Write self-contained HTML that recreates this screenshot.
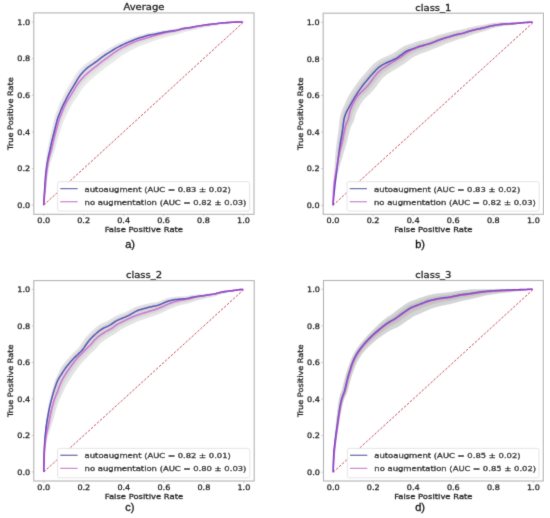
<!DOCTYPE html>
<html><head><meta charset="utf-8"><title>ROC curves</title>
<style>html,body{margin:0;padding:0;background:#fff}svg{display:block}
svg text{font-family:'DejaVu Sans', 'Liberation Sans', sans-serif;stroke:currentColor;stroke-width:0.3px}</style></head>
<body><svg width="550" height="518" viewBox="0 0 550 518">
<defs><filter id="bl" x="0" y="0" width="1" height="1"><feConvolveMatrix order="3" kernelMatrix="0.0121 0.0858 0.0121 0.0858 0.6084 0.0858 0.0121 0.0858 0.0121" edgeMode="none"/></filter></defs>
<rect width="550" height="518" fill="#fff"/>
<g filter="url(#bl)">
<g><path d="M43.7 205.07 L43.7 203.5 L43.7 201.93 L43.7 200.36 L43.7 198.79 L43.7 197.22 L43.7 195.65 L43.7 194.08 L43.7 192.52 L43.77 190.95 L43.84 189.38 L43.91 187.81 L43.97 186.24 L44.04 184.67 L44.11 183.1 L44.18 181.53 L44.26 179.96 L44.34 178.38 L44.42 176.81 L44.51 175.23 L44.61 173.66 L44.72 172.08 L44.84 170.5 L44.97 168.92 L45.11 167.34 L45.27 165.76 L45.43 164.18 L45.59 162.61 L45.77 161.03 L45.96 159.45 L46.16 157.87 L46.37 156.28 L46.6 154.71 L46.84 153.14 L47.07 151.58 L47.32 150.03 L47.62 148.5 L47.91 146.97 L48.21 145.43 L48.51 143.88 L48.82 142.32 L49.14 140.76 L49.47 139.2 L49.81 137.65 L50.16 136.11 L50.5 134.57 L50.85 133.04 L51.2 131.51 L51.54 129.98 L51.89 128.46 L52.22 126.93 L52.56 125.39 L52.91 123.85 L53.26 122.3 L53.63 120.74 L54.02 119.17 L54.44 117.57 L54.93 115.95 L55.46 114.35 L56.02 112.82 L56.56 111.34 L57.08 109.89 L57.6 108.42 L58.15 106.9 L58.75 105.34 L59.39 103.79 L60.05 102.27 L60.76 100.84 L61.45 99.45 L62.13 98.06 L62.82 96.65 L63.52 95.22 L64.25 93.76 L65.01 92.3 L65.81 90.86 L66.62 89.44 L67.43 88.06 L68.24 86.7 L69.04 85.34 L69.84 84 L70.63 82.66 L71.4 81.34 L72.15 80.01 L72.92 78.64 L73.74 77.21 L74.62 75.75 L75.58 74.3 L76.59 72.89 L77.64 71.52 L78.72 70.2 L79.84 68.92 L81.02 67.68 L82.28 66.5 L83.59 65.35 L84.97 64.25 L86.37 63.23 L87.76 62.29 L89.12 61.41 L90.45 60.55 L91.77 59.71 L93.07 58.87 L94.33 58.04 L95.53 57.21 L96.71 56.35 L97.92 55.42 L99.19 54.43 L100.57 53.42 L102.01 52.45 L103.47 51.56 L104.88 50.76 L106.23 50 L107.53 49.24 L108.82 48.46 L110.15 47.63 L111.53 46.78 L112.97 45.93 L114.46 45.13 L115.95 44.39 L117.42 43.7 L118.86 43.04 L120.28 42.39 L121.72 41.73 L123.18 41.07 L124.67 40.43 L126.19 39.81 L127.69 39.23 L129.18 38.67 L130.66 38.13 L132.13 37.58 L133.63 37.03 L135.17 36.49 L136.74 35.99 L138.3 35.54 L139.84 35.12 L141.34 34.72 L142.82 34.3 L144.33 33.84 L145.9 33.39 L147.52 32.99 L149.16 32.67 L150.78 32.41 L152.35 32.2 L153.88 31.98 L155.39 31.75 L156.9 31.48 L158.43 31.18 L159.99 30.89 L161.56 30.61 L163.13 30.35 L164.71 30.11 L166.28 29.88 L167.85 29.68 L169.42 29.48 L170.99 29.29 L172.56 29.11 L174.1 28.93 L175.6 28.72 L177.07 28.46 L178.53 28.13 L180.04 27.74 L181.62 27.37 L183.24 27.07 L184.85 26.84 L186.42 26.65 L187.97 26.47 L189.51 26.27 L191.05 26.05 L192.59 25.81 L194.12 25.56 L195.67 25.3 L197.22 25.03 L198.79 24.78 L200.36 24.56 L201.93 24.36 L203.49 24.17 L205.05 23.97 L206.6 23.77 L208.17 23.57 L209.74 23.39 L211.31 23.23 L212.88 23.09 L214.45 22.95 L216.01 22.8 L217.56 22.65 L219.12 22.48 L220.68 22.31 L222.26 22.16 L223.84 22.1 L225.42 22.1 L226.99 22.1 L228.56 22.1 L230.13 22.1 L231.7 22.1 L233.28 22.1 L234.85 22.1 L236.43 22.1 L238 22.1 L239.58 22.1 L241.15 22.1 L242.72 22.1 L243.5 22.1 L241.94 22.18 L240.39 22.26 L238.84 22.37 L237.29 22.49 L235.75 22.64 L234.22 22.83 L232.69 23.05 L231.14 23.27 L229.6 23.5 L228.05 23.71 L226.51 23.93 L224.98 24.15 L223.46 24.39 L221.96 24.61 L220.45 24.87 L218.92 25.14 L217.37 25.41 L215.82 25.67 L214.28 25.91 L212.75 26.16 L211.22 26.4 L209.72 26.67 L208.22 26.95 L206.71 27.24 L205.19 27.55 L203.67 27.87 L202.16 28.18 L200.67 28.51 L199.17 28.85 L197.68 29.2 L196.16 29.56 L194.64 29.92 L193.1 30.27 L191.56 30.61 L190.01 30.94 L188.46 31.26 L186.92 31.56 L185.44 31.87 L184.05 32.19 L182.72 32.56 L181.35 33.01 L179.87 33.51 L178.27 34.01 L176.64 34.46 L175.06 34.84 L173.54 35.2 L172.07 35.56 L170.61 35.94 L169.14 36.33 L167.67 36.74 L166.19 37.15 L164.71 37.57 L163.24 37.99 L161.79 38.43 L160.37 38.87 L158.95 39.33 L157.52 39.82 L156.07 40.32 L154.61 40.83 L153.14 41.35 L151.68 41.86 L150.23 42.37 L148.78 42.89 L147.33 43.41 L145.85 43.94 L144.36 44.47 L142.87 44.99 L141.43 45.5 L140.07 46 L138.77 46.51 L137.49 47.06 L136.21 47.65 L134.94 48.26 L133.69 48.91 L132.42 49.6 L131.11 50.33 L129.73 51.1 L128.34 51.87 L126.97 52.61 L125.67 53.33 L124.45 54.04 L123.27 54.77 L122.11 55.52 L120.97 56.3 L119.84 57.11 L118.75 57.95 L117.64 58.81 L116.46 59.7 L115.22 60.64 L113.9 61.63 L112.55 62.61 L111.21 63.54 L109.93 64.42 L108.73 65.26 L107.59 66.1 L106.46 66.95 L105.32 67.86 L104.13 68.81 L102.92 69.78 L101.7 70.76 L100.48 71.74 L99.27 72.71 L98.05 73.68 L96.84 74.65 L95.63 75.62 L94.45 76.56 L93.33 77.49 L92.26 78.4 L91.21 79.34 L90.17 80.29 L89.17 81.27 L88.16 82.23 L87.16 83.18 L86.18 84.16 L85.24 85.16 L84.33 86.17 L83.48 87.19 L82.69 88.22 L81.91 89.31 L81.13 90.5 L80.31 91.78 L79.46 93.11 L78.6 94.45 L77.74 95.77 L76.88 97.09 L76 98.42 L75.11 99.74 L74.23 101.03 L73.38 102.28 L72.58 103.5 L71.82 104.71 L71.09 105.92 L70.4 107.16 L69.73 108.41 L69.1 109.69 L68.47 110.98 L67.81 112.31 L67.15 113.71 L66.46 115.14 L65.77 116.56 L65.11 117.92 L64.49 119.23 L63.93 120.53 L63.4 121.87 L62.89 123.27 L62.39 124.71 L61.89 126.17 L61.4 127.62 L60.92 129.07 L60.45 130.52 L60 131.98 L59.55 133.45 L59.1 134.93 L58.66 136.43 L58.21 137.92 L57.77 139.4 L57.34 140.87 L56.93 142.33 L56.53 143.79 L56.15 145.28 L55.76 146.79 L55.36 148.33 L54.93 149.89 L54.45 151.44 L53.94 152.98 L53.42 154.47 L52.9 155.93 L52.37 157.36 L51.82 158.75 L51.33 160.15 L50.88 161.58 L50.47 163.04 L50.08 164.52 L49.72 166.01 L49.38 167.51 L49.06 169.02 L48.76 170.53 L48.49 172.04 L48.23 173.56 L47.99 175.08 L47.77 176.61 L47.56 178.14 L47.37 179.68 L47.18 181.22 L47 182.76 L46.82 184.31 L46.64 185.85 L46.45 187.4 L46.25 188.94 L46.06 190.49 L45.86 192.03 L45.67 193.57 L45.47 195.12 L45.28 196.66 L45.08 198.2 L44.88 199.75 L44.69 201.29 L44.49 202.83 L44.3 204.37 Z" fill="#e9e9e9" stroke="none"/>
<path d="M43.7 205.09 L43.7 203.52 L43.7 201.95 L43.7 200.38 L43.75 198.81 L43.83 197.24 L43.91 195.68 L43.99 194.11 L44.07 192.54 L44.16 190.97 L44.24 189.4 L44.33 187.84 L44.42 186.27 L44.5 184.7 L44.59 183.13 L44.68 181.56 L44.77 179.99 L44.87 178.42 L44.97 176.85 L45.08 175.28 L45.21 173.72 L45.34 172.15 L45.49 170.58 L45.66 169.01 L45.83 167.44 L46.02 165.87 L46.22 164.31 L46.43 162.74 L46.64 161.18 L46.87 159.62 L47.12 158.06 L47.39 156.5 L47.67 154.94 L47.95 153.39 L48.25 151.85 L48.54 150.31 L48.86 148.77 L49.18 147.24 L49.49 145.7 L49.8 144.16 L50.13 142.61 L50.46 141.07 L50.81 139.52 L51.17 137.99 L51.54 136.46 L51.9 134.93 L52.27 133.4 L52.64 131.88 L53 130.35 L53.37 128.83 L53.73 127.3 L54.08 125.77 L54.45 124.24 L54.82 122.7 L55.2 121.17 L55.6 119.62 L56.04 118.07 L56.53 116.52 L57.07 114.99 L57.65 113.49 L58.22 112.03 L58.78 110.58 L59.33 109.11 L59.9 107.62 L60.5 106.12 L61.15 104.63 L61.83 103.17 L62.54 101.76 L63.25 100.36 L63.94 98.97 L64.64 97.56 L65.34 96.14 L66.07 94.72 L66.82 93.3 L67.6 91.89 L68.41 90.51 L69.22 89.14 L70.03 87.79 L70.84 86.45 L71.65 85.11 L72.45 83.77 L73.24 82.43 L74.02 81.09 L74.79 79.72 L75.6 78.33 L76.46 76.94 L77.37 75.56 L78.34 74.22 L79.35 72.92 L80.4 71.67 L81.48 70.44 L82.62 69.25 L83.81 68.11 L85.04 67.01 L86.33 65.96 L87.65 64.97 L88.99 64.04 L90.31 63.16 L91.63 62.29 L92.94 61.42 L94.24 60.56 L95.51 59.7 L96.74 58.82 L97.95 57.91 L99.17 56.95 L100.41 55.96 L101.72 54.97 L103.08 54.03 L104.46 53.16 L105.84 52.35 L107.19 51.57 L108.51 50.78 L109.81 49.96 L111.13 49.11 L112.48 48.25 L113.86 47.42 L115.28 46.62 L116.72 45.88 L118.16 45.19 L119.58 44.51 L121 43.84 L122.42 43.16 L123.86 42.49 L125.31 41.83 L126.79 41.21 L128.26 40.61 L129.74 40.04 L131.2 39.47 L132.67 38.9 L134.14 38.33 L135.65 37.78 L137.17 37.27 L138.7 36.8 L140.22 36.37 L141.72 35.93 L143.21 35.49 L144.71 35.01 L146.24 34.55 L147.81 34.15 L149.39 33.82 L150.97 33.55 L152.53 33.32 L154.07 33.08 L155.6 32.82 L157.12 32.53 L158.65 32.22 L160.2 31.91 L161.76 31.61 L163.31 31.33 L164.87 31.07 L166.43 30.83 L168 30.61 L169.56 30.39 L171.12 30.19 L172.68 29.99 L174.23 29.79 L175.75 29.56 L177.25 29.27 L178.74 28.91 L180.25 28.5 L181.8 28.11 L183.38 27.8 L184.95 27.57 L186.52 27.37 L188.07 27.18 L189.62 26.96 L191.16 26.72 L192.7 26.47 L194.24 26.2 L195.79 25.93 L197.34 25.65 L198.89 25.39 L200.45 25.15 L202.02 24.94 L203.57 24.73 L205.13 24.53 L206.68 24.31 L208.24 24.1 L209.81 23.91 L211.37 23.74 L212.94 23.58 L214.5 23.42 L216.06 23.26 L217.62 23.1 L219.17 22.92 L220.73 22.73 L222.3 22.57 L223.87 22.44 L225.45 22.36 L227.02 22.28 L228.58 22.21 L230.15 22.14 L231.72 22.1 L233.29 22.1 L234.86 22.1 L236.43 22.1 L238 22.1 L239.58 22.1 L241.15 22.1 L242.72 22.1 L243.5 22.1 L241.94 22.12 L240.39 22.15 L238.84 22.19 L237.29 22.26 L235.74 22.35 L234.2 22.48 L232.66 22.64 L231.11 22.81 L229.56 22.97 L228.02 23.13 L226.47 23.29 L224.93 23.46 L223.4 23.63 L221.87 23.83 L220.34 24.05 L218.81 24.28 L217.26 24.51 L215.72 24.72 L214.17 24.93 L212.64 25.14 L211.1 25.35 L209.58 25.57 L208.06 25.82 L206.53 26.08 L205.01 26.35 L203.48 26.63 L201.96 26.91 L200.44 27.19 L198.93 27.5 L197.42 27.81 L195.9 28.14 L194.37 28.46 L192.84 28.77 L191.3 29.07 L189.76 29.36 L188.21 29.64 L186.68 29.9 L185.17 30.17 L183.71 30.47 L182.29 30.82 L180.86 31.25 L179.37 31.71 L177.82 32.16 L176.25 32.55 L174.69 32.9 L173.17 33.22 L171.67 33.54 L170.18 33.89 L168.69 34.25 L167.19 34.62 L165.69 35 L164.19 35.38 L162.71 35.77 L161.23 36.17 L159.76 36.59 L158.31 37.03 L156.84 37.48 L155.37 37.95 L153.9 38.43 L152.42 38.9 L150.94 39.38 L149.47 39.86 L148.01 40.35 L146.54 40.84 L145.06 41.33 L143.56 41.82 L142.08 42.3 L140.61 42.77 L139.19 43.26 L137.8 43.76 L136.43 44.3 L135.07 44.88 L133.72 45.49 L132.39 46.14 L131.06 46.82 L129.7 47.53 L128.32 48.26 L126.93 48.99 L125.54 49.71 L124.2 50.41 L122.9 51.12 L121.63 51.86 L120.38 52.63 L119.14 53.43 L117.93 54.25 L116.74 55.11 L115.56 56 L114.35 56.91 L113.11 57.85 L111.83 58.81 L110.52 59.75 L109.21 60.67 L107.94 61.55 L106.7 62.41 L105.5 63.29 L104.32 64.19 L103.14 65.12 L101.94 66.08 L100.73 67.05 L99.51 68.03 L98.29 69 L97.08 69.97 L95.87 70.94 L94.65 71.92 L93.44 72.89 L92.25 73.85 L91.09 74.8 L89.96 75.76 L88.85 76.75 L87.77 77.75 L86.7 78.78 L85.66 79.82 L84.62 80.86 L83.62 81.93 L82.64 83.02 L81.7 84.13 L80.81 85.26 L79.97 86.41 L79.17 87.61 L78.38 88.87 L77.57 90.18 L76.76 91.52 L75.93 92.86 L75.1 94.19 L74.27 95.51 L73.42 96.84 L72.57 98.16 L71.72 99.47 L70.89 100.75 L70.08 102.03 L69.32 103.3 L68.58 104.59 L67.88 105.9 L67.21 107.23 L66.57 108.57 L65.95 109.93 L65.33 111.32 L64.71 112.74 L64.08 114.18 L63.44 115.61 L62.81 117.01 L62.23 118.38 L61.69 119.77 L61.18 121.17 L60.7 122.62 L60.23 124.08 L59.76 125.56 L59.31 127.03 L58.86 128.51 L58.42 129.98 L58 131.46 L57.58 132.95 L57.17 134.45 L56.76 135.95 L56.34 137.44 L55.93 138.94 L55.53 140.43 L55.14 141.91 L54.78 143.4 L54.42 144.91 L54.06 146.42 L53.7 147.95 L53.3 149.49 L52.87 151.02 L52.4 152.53 L51.92 154.03 L51.44 155.5 L50.96 156.96 L50.48 158.41 L50.05 159.86 L49.66 161.33 L49.31 162.82 L48.98 164.32 L48.67 165.84 L48.38 167.36 L48.11 168.88 L47.85 170.41 L47.61 171.94 L47.39 173.47 L47.18 175 L46.99 176.53 L46.82 178.07 L46.65 179.62 L46.5 181.16 L46.34 182.71 L46.19 184.25 L46.03 185.8 L45.87 187.35 L45.7 188.9 L45.54 190.44 L45.37 191.99 L45.2 193.53 L45.04 195.08 L44.87 196.62 L44.7 198.17 L44.54 199.71 L44.37 201.26 L44.2 202.8 L44.03 204.35 Z" fill="#dfdfdf" stroke="none"/>
<line x1="43.7" y1="205.1" x2="243.5" y2="22.1" stroke="#c85262" stroke-width="1.0" stroke-dasharray="2.6 1.4"/>
<path d="M43.7 205.1 L43.79 203.53 L43.88 201.97 L43.97 200.4 L44.06 198.83 L44.15 197.26 L44.25 195.7 L44.35 194.13 L44.45 192.56 L44.55 191 L44.65 189.43 L44.76 187.86 L44.86 186.3 L44.96 184.73 L45.07 183.16 L45.17 181.6 L45.28 180.03 L45.4 178.46 L45.52 176.9 L45.66 175.34 L45.81 173.77 L45.97 172.21 L46.15 170.65 L46.34 169.1 L46.55 167.54 L46.78 165.98 L47.01 164.43 L47.26 162.88 L47.52 161.33 L47.79 159.79 L48.08 158.25 L48.4 156.71 L48.73 155.18 L49.07 153.64 L49.42 152.11 L49.77 150.58 L50.1 149.05 L50.44 147.51 L50.77 145.98 L51.1 144.44 L51.44 142.91 L51.79 141.38 L52.16 139.85 L52.53 138.33 L52.92 136.81 L53.3 135.29 L53.69 133.76 L54.08 132.24 L54.46 130.72 L54.85 129.2 L55.23 127.67 L55.61 126.15 L55.99 124.63 L56.38 123.11 L56.78 121.59 L57.19 120.07 L57.64 118.57 L58.14 117.09 L58.69 115.62 L59.28 114.16 L59.88 112.71 L60.47 111.26 L61.06 109.8 L61.64 108.34 L62.26 106.9 L62.92 105.48 L63.61 104.07 L64.33 102.68 L65.05 101.28 L65.75 99.88 L66.46 98.47 L67.16 97.07 L67.88 95.68 L68.63 94.29 L69.4 92.93 L70.19 91.57 L71 90.23 L71.82 88.89 L72.64 87.55 L73.46 86.21 L74.28 84.87 L75.09 83.52 L75.88 82.17 L76.66 80.81 L77.46 79.45 L78.29 78.12 L79.17 76.83 L80.09 75.56 L81.07 74.33 L82.08 73.13 L83.13 71.96 L84.22 70.82 L85.34 69.72 L86.49 68.67 L87.69 67.66 L88.93 66.71 L90.21 65.8 L91.51 64.91 L92.81 64.02 L94.11 63.14 L95.4 62.25 L96.69 61.35 L97.96 60.43 L99.2 59.46 L100.41 58.47 L101.63 57.48 L102.87 56.52 L104.14 55.62 L105.46 54.77 L106.8 53.95 L108.15 53.14 L109.48 52.31 L110.8 51.46 L112.11 50.59 L113.42 49.73 L114.75 48.9 L116.11 48.12 L117.49 47.38 L118.9 46.68 L120.31 45.98 L121.71 45.29 L123.12 44.59 L124.53 43.9 L125.95 43.24 L127.39 42.6 L128.84 41.99 L130.29 41.4 L131.75 40.81 L133.2 40.22 L134.66 39.63 L136.12 39.07 L137.6 38.55 L139.09 38.07 L140.59 37.61 L142.1 37.15 L143.59 36.67 L145.09 36.18 L146.58 35.72 L148.09 35.31 L149.62 34.97 L151.16 34.69 L152.71 34.44 L154.26 34.19 L155.81 33.9 L157.35 33.59 L158.88 33.25 L160.41 32.92 L161.95 32.61 L163.49 32.32 L165.04 32.04 L166.59 31.78 L168.14 31.54 L169.69 31.31 L171.25 31.08 L172.8 30.87 L174.36 30.64 L175.9 30.39 L177.44 30.08 L178.96 29.69 L180.47 29.26 L181.98 28.86 L183.51 28.54 L185.06 28.3 L186.61 28.09 L188.17 27.88 L189.72 27.65 L191.27 27.4 L192.82 27.13 L194.36 26.85 L195.91 26.56 L197.45 26.27 L199 25.99 L200.54 25.75 L202.1 25.52 L203.65 25.3 L205.21 25.08 L206.76 24.85 L208.31 24.63 L209.87 24.43 L211.43 24.24 L212.99 24.07 L214.55 23.9 L216.11 23.73 L217.67 23.54 L219.23 23.35 L220.78 23.15 L222.34 22.98 L223.91 22.83 L225.47 22.72 L227.04 22.61 L228.6 22.51 L230.17 22.41 L231.74 22.3 L233.3 22.19 L234.87 22.1 L236.44 22.04 L238.01 22.02 L239.57 22.02 L241.14 22.04 L242.71 22.08" fill="none" stroke="#4c4cba" stroke-width="1.55" stroke-linejoin="round"/>
<path d="M43.7 205.1 L43.84 203.55 L43.98 202 L44.12 200.46 L44.25 198.91 L44.39 197.36 L44.53 195.81 L44.67 194.27 L44.81 192.72 L44.95 191.17 L45.08 189.62 L45.22 188.07 L45.36 186.53 L45.49 184.98 L45.62 183.43 L45.74 181.88 L45.87 180.33 L46.01 178.78 L46.15 177.23 L46.3 175.69 L46.46 174.14 L46.64 172.6 L46.83 171.06 L47.04 169.51 L47.26 167.97 L47.49 166.43 L47.74 164.9 L48.01 163.37 L48.3 161.84 L48.61 160.32 L48.95 158.81 L49.34 157.31 L49.76 155.82 L50.2 154.32 L50.64 152.83 L51.07 151.34 L51.48 149.84 L51.85 148.33 L52.2 146.81 L52.53 145.29 L52.86 143.78 L53.19 142.26 L53.54 140.74 L53.91 139.23 L54.28 137.73 L54.66 136.22 L55.05 134.71 L55.42 133.21 L55.81 131.7 L56.2 130.19 L56.59 128.69 L57.01 127.19 L57.43 125.7 L57.85 124.2 L58.29 122.71 L58.73 121.22 L59.2 119.74 L59.7 118.27 L60.24 116.82 L60.81 115.37 L61.4 113.93 L61.98 112.49 L62.56 111.05 L63.14 109.6 L63.73 108.17 L64.36 106.75 L65.02 105.34 L65.71 103.95 L66.44 102.58 L67.2 101.23 L67.99 99.89 L68.8 98.56 L69.62 97.24 L70.44 95.92 L71.26 94.6 L72.06 93.27 L72.86 91.94 L73.66 90.6 L74.44 89.26 L75.23 87.91 L76.02 86.58 L76.84 85.26 L77.69 83.97 L78.6 82.71 L79.55 81.48 L80.54 80.28 L81.57 79.11 L82.61 77.96 L83.69 76.85 L84.8 75.75 L85.93 74.68 L87.08 73.64 L88.25 72.62 L89.44 71.62 L90.65 70.64 L91.86 69.67 L93.07 68.7 L94.29 67.73 L95.5 66.76 L96.71 65.78 L97.93 64.81 L99.14 63.84 L100.35 62.86 L101.57 61.9 L102.79 60.95 L104.04 60.02 L105.3 59.12 L106.58 58.23 L107.86 57.35 L109.13 56.45 L110.38 55.52 L111.62 54.59 L112.86 53.65 L114.11 52.73 L115.37 51.83 L116.67 50.97 L117.98 50.14 L119.31 49.34 L120.66 48.57 L122.03 47.84 L123.42 47.14 L124.82 46.46 L126.21 45.77 L127.6 45.08 L128.99 44.38 L130.39 43.7 L131.79 43.04 L133.22 42.41 L134.65 41.82 L136.1 41.27 L137.57 40.75 L139.05 40.28 L140.53 39.83 L142.02 39.39 L143.51 38.94 L145 38.49 L146.49 38.03 L147.97 37.58 L149.46 37.13 L150.95 36.68 L152.44 36.24 L153.93 35.8 L155.42 35.36 L156.91 34.93 L158.41 34.51 L159.91 34.11 L161.42 33.73 L162.93 33.37 L164.44 33.02 L165.96 32.67 L167.47 32.33 L168.99 32 L170.51 31.68 L172.04 31.38 L173.56 31.09 L175.09 30.8 L176.61 30.49 L178.12 30.12 L179.61 29.7 L181.11 29.28 L182.61 28.91 L184.13 28.6 L185.66 28.36 L187.2 28.13 L188.74 27.9 L190.28 27.66 L191.81 27.4 L193.34 27.14 L194.87 26.86 L196.4 26.57 L197.92 26.29 L199.45 26.01 L200.99 25.75 L202.52 25.51 L204.06 25.27 L205.59 25.03 L207.13 24.8 L208.67 24.58 L210.21 24.38 L211.75 24.2 L213.3 24.03 L214.84 23.87 L216.39 23.7 L217.93 23.51 L219.47 23.32 L221.01 23.13 L222.56 22.95 L224.1 22.82 L225.65 22.7 L227.2 22.6 L228.75 22.5 L230.3 22.4 L231.86 22.29 L233.41 22.18 L234.96 22.09 L236.51 22.04 L238.06 22.02 L239.61 22.02 L241.17 22.04 L242.72 22.08" fill="none" stroke="#c83cd2" stroke-width="1.6" stroke-opacity="0.65" stroke-linejoin="round"/>
<rect x="33.8" y="12.9" width="220.2" height="201.4" fill="none" stroke="#b4b4b4" stroke-width="1.1"/>
<line x1="43.7" y1="214.3" x2="43.7" y2="216.5" stroke="#c0c0c0" stroke-width="0.8"/>
<line x1="31.6" y1="205.1" x2="33.8" y2="205.1" stroke="#c0c0c0" stroke-width="0.8"/>
<text transform="translate(43.7 223.09) scale(1 0.93)" font-size="8.1" text-anchor="middle" fill="#252525" color="#252525">0.0</text>
<text transform="translate(30.2 207.85) scale(1 0.93)" font-size="8.1" text-anchor="end" fill="#252525" color="#252525">0.0</text>
<line x1="83.66" y1="214.3" x2="83.66" y2="216.5" stroke="#c0c0c0" stroke-width="0.8"/>
<line x1="31.6" y1="168.5" x2="33.8" y2="168.5" stroke="#c0c0c0" stroke-width="0.8"/>
<text transform="translate(83.66 223.09) scale(1 0.93)" font-size="8.1" text-anchor="middle" fill="#252525" color="#252525">0.2</text>
<text transform="translate(30.2 171.25) scale(1 0.93)" font-size="8.1" text-anchor="end" fill="#252525" color="#252525">0.2</text>
<line x1="123.62" y1="214.3" x2="123.62" y2="216.5" stroke="#c0c0c0" stroke-width="0.8"/>
<line x1="31.6" y1="131.9" x2="33.8" y2="131.9" stroke="#c0c0c0" stroke-width="0.8"/>
<text transform="translate(123.62 223.09) scale(1 0.93)" font-size="8.1" text-anchor="middle" fill="#252525" color="#252525">0.4</text>
<text transform="translate(30.2 134.65) scale(1 0.93)" font-size="8.1" text-anchor="end" fill="#252525" color="#252525">0.4</text>
<line x1="163.58" y1="214.3" x2="163.58" y2="216.5" stroke="#c0c0c0" stroke-width="0.8"/>
<line x1="31.6" y1="95.3" x2="33.8" y2="95.3" stroke="#c0c0c0" stroke-width="0.8"/>
<text transform="translate(163.58 223.09) scale(1 0.93)" font-size="8.1" text-anchor="middle" fill="#252525" color="#252525">0.6</text>
<text transform="translate(30.2 98.05) scale(1 0.93)" font-size="8.1" text-anchor="end" fill="#252525" color="#252525">0.6</text>
<line x1="203.54" y1="214.3" x2="203.54" y2="216.5" stroke="#c0c0c0" stroke-width="0.8"/>
<line x1="31.6" y1="58.7" x2="33.8" y2="58.7" stroke="#c0c0c0" stroke-width="0.8"/>
<text transform="translate(203.54 223.09) scale(1 0.93)" font-size="8.1" text-anchor="middle" fill="#252525" color="#252525">0.8</text>
<text transform="translate(30.2 61.45) scale(1 0.93)" font-size="8.1" text-anchor="end" fill="#252525" color="#252525">0.8</text>
<line x1="243.5" y1="214.3" x2="243.5" y2="216.5" stroke="#c0c0c0" stroke-width="0.8"/>
<line x1="31.6" y1="22.1" x2="33.8" y2="22.1" stroke="#c0c0c0" stroke-width="0.8"/>
<text transform="translate(243.5 223.09) scale(1 0.93)" font-size="8.1" text-anchor="middle" fill="#252525" color="#252525">1.0</text>
<text transform="translate(30.2 24.85) scale(1 0.93)" font-size="8.1" text-anchor="end" fill="#252525" color="#252525">1.0</text>
<text transform="translate(143.9 10.4) scale(1 0.9)" font-size="10" text-anchor="middle" fill="#222" color="#222">Average</text>
<text transform="translate(143.9 231.9) scale(1 0.9)" font-size="8.45" text-anchor="middle" fill="#252525" color="#252525">False Positive Rate</text>
<text transform="translate(13.3 113.6) rotate(-90) scale(0.965 0.88)" font-size="8.45" text-anchor="middle" fill="#252525" color="#252525">True Positive Rate</text>
<rect x="57.6" y="181.7" width="192.1" height="29.4" rx="1.8" fill="#fff" fill-opacity="0.93" stroke="#e2e2e2" stroke-width="0.9"/>
<line x1="60.3" y1="188.6" x2="77.6" y2="188.6" stroke="#5c5ca4" stroke-width="1.25"/>
<text transform="translate(84.6 191.6) scale(1 0.9)" font-size="8.45" text-anchor="start" fill="#181818" color="#181818" style="stroke-width:0.35px">autoaugment (AUC = 0.83 ± 0.02)</text>
<line x1="60.3" y1="201.7" x2="77.6" y2="201.7" stroke="#cc7ccc" stroke-width="1.25"/>
<text transform="translate(84.6 204.7) scale(1 0.9)" font-size="8.45" text-anchor="start" fill="#181818" color="#181818" style="stroke-width:0.35px">no augmentation (AUC = 0.82 ± 0.03)</text>
<text x="125.2" y="247.6" style="font-family:'Liberation Sans', Arial, sans-serif" font-size="11" fill="#111" color="#111">a)</text></g>
<g><path d="M333 205.26 L333 203.69 L333 202.12 L333 200.55 L333 198.98 L333 197.41 L333 195.83 L333 194.26 L333.07 192.69 L333.15 191.12 L333.23 189.55 L333.31 187.98 L333.4 186.4 L333.49 184.83 L333.58 183.25 L333.68 181.68 L333.77 180.11 L333.87 178.53 L333.98 176.96 L334.08 175.4 L334.18 173.83 L334.27 172.26 L334.37 170.7 L334.47 169.13 L334.56 167.57 L334.65 166 L334.75 164.43 L334.84 162.86 L334.94 161.28 L335.04 159.71 L335.14 158.13 L335.24 156.56 L335.34 154.98 L335.45 153.41 L335.56 151.83 L335.74 150.26 L335.92 148.7 L336.1 147.13 L336.29 145.55 L336.48 143.98 L336.68 142.4 L336.89 140.82 L337.11 139.24 L337.34 137.67 L337.56 136.11 L337.79 134.57 L338.01 133.03 L338.21 131.52 L338.4 130.01 L338.57 128.5 L338.73 126.97 L338.89 125.41 L339.05 123.84 L339.22 122.23 L339.42 120.6 L339.65 118.93 L339.94 117.2 L340.33 115.43 L340.81 113.65 L341.37 111.93 L341.99 110.26 L342.65 108.65 L343.32 107.1 L343.98 105.61 L344.64 104.16 L345.28 102.72 L345.93 101.28 L346.59 99.82 L347.26 98.35 L347.97 96.89 L348.8 95.49 L349.64 94.09 L350.5 92.71 L351.37 91.33 L352.26 89.96 L353.16 88.6 L354.08 87.24 L355.02 85.9 L355.97 84.56 L356.95 83.23 L357.94 81.91 L358.95 80.61 L359.97 79.33 L361 78.07 L362.02 76.84 L363.04 75.61 L364.07 74.38 L365.11 73.16 L366.17 71.93 L367.24 70.71 L368.33 69.5 L369.41 68.31 L370.52 67.12 L371.67 65.89 L372.94 64.62 L374.33 63.35 L375.85 62.13 L377.42 61.02 L378.99 60.04 L380.54 59.15 L382.08 58.34 L383.62 57.58 L385.15 56.86 L386.64 56.19 L388.09 55.55 L389.5 54.92 L390.86 54.32 L392.1 53.75 L393.22 53.19 L394.29 52.58 L395.39 51.86 L396.58 51.03 L397.83 50.13 L399.12 49.2 L400.49 48.22 L402.04 47.19 L403.82 46.17 L405.73 45.31 L407.57 44.68 L409.19 44.21 L410.59 43.81 L411.91 43.39 L413.28 42.9 L414.79 42.34 L416.41 41.79 L418.06 41.27 L419.69 40.81 L421.31 40.39 L422.91 40 L424.49 39.65 L425.99 39.31 L427.38 38.98 L428.69 38.62 L429.98 38.2 L431.34 37.71 L432.79 37.18 L434.28 36.63 L435.8 36.08 L437.35 35.54 L438.93 35.02 L440.53 34.53 L442.11 34.08 L443.66 33.66 L445.2 33.26 L446.72 32.86 L448.25 32.47 L449.77 32.08 L451.28 31.68 L452.83 31.29 L454.42 30.89 L456.05 30.52 L457.69 30.2 L459.27 29.93 L460.75 29.66 L462.17 29.37 L463.58 29.04 L465.04 28.65 L466.54 28.24 L468.07 27.82 L469.63 27.4 L471.23 27 L472.86 26.65 L474.49 26.35 L476.08 26.1 L477.62 25.87 L479.14 25.62 L480.65 25.36 L482.17 25.08 L483.68 24.78 L485.21 24.47 L486.75 24.15 L488.31 23.84 L489.9 23.54 L491.5 23.27 L493.1 23.03 L494.71 22.83 L496.31 22.65 L497.91 22.51 L499.5 22.38 L501.09 22.27 L502.69 22.2 L504.29 22.2 L505.88 22.2 L507.47 22.2 L509.06 22.2 L510.64 22.2 L512.21 22.21 L513.77 22.24 L515.32 22.24 L516.87 22.22 L518.43 22.2 L520 22.2 L521.57 22.2 L523.15 22.2 L524.74 22.2 L526.32 22.2 L527.89 22.2 L529.47 22.2 L531.04 22.2 L532.61 22.2 L533.4 22.2 L531.84 22.33 L530.29 22.48 L528.74 22.63 L527.2 22.81 L525.65 23 L524.12 23.22 L522.59 23.46 L521.06 23.72 L519.52 23.99 L517.98 24.25 L516.42 24.5 L514.85 24.72 L513.29 24.91 L511.73 25.08 L510.18 25.25 L508.64 25.43 L507.11 25.63 L505.59 25.84 L504.07 26.06 L502.55 26.31 L501.04 26.58 L499.54 26.86 L498.04 27.16 L496.55 27.48 L495.07 27.83 L493.61 28.2 L492.16 28.6 L490.71 29.02 L489.27 29.47 L487.81 29.95 L486.32 30.44 L484.81 30.92 L483.3 31.4 L481.77 31.86 L480.23 32.3 L478.69 32.73 L477.18 33.14 L475.74 33.55 L474.35 33.98 L472.98 34.44 L471.59 34.94 L470.17 35.47 L468.73 36.02 L467.25 36.58 L465.7 37.14 L464.09 37.68 L462.47 38.17 L460.91 38.6 L459.46 39.01 L458.09 39.43 L456.73 39.88 L455.34 40.38 L453.89 40.9 L452.42 41.44 L450.95 41.97 L449.49 42.5 L448.04 43.04 L446.59 43.57 L445.19 44.1 L443.83 44.63 L442.52 45.18 L441.2 45.77 L439.79 46.4 L438.3 47.07 L436.75 47.72 L435.22 48.33 L433.75 48.85 L432.37 49.36 L431.06 49.87 L429.72 50.42 L428.29 51.02 L426.74 51.66 L425.13 52.27 L423.55 52.84 L422.06 53.35 L420.67 53.84 L419.33 54.34 L418.02 54.86 L416.75 55.4 L415.51 55.97 L414.31 56.56 L413.17 57.17 L412.11 57.79 L411.14 58.43 L410.19 59.14 L409.15 59.98 L407.92 60.99 L406.51 62.09 L405.02 63.17 L403.54 64.16 L402.13 65.06 L400.78 65.91 L399.46 66.74 L398.14 67.56 L396.83 68.38 L395.51 69.16 L394.19 69.94 L392.88 70.72 L391.6 71.5 L390.36 72.26 L389.17 73.02 L388 73.81 L386.84 74.62 L385.73 75.44 L384.7 76.24 L383.79 77.01 L382.98 77.77 L382.23 78.57 L381.47 79.49 L380.65 80.57 L379.76 81.77 L378.83 83.05 L377.89 84.32 L376.95 85.59 L375.97 86.89 L374.93 88.25 L373.8 89.63 L372.6 91.01 L371.36 92.31 L370.14 93.52 L368.97 94.66 L367.81 95.76 L366.66 96.83 L365.58 97.86 L364.64 98.78 L363.84 99.64 L363.13 100.51 L362.43 101.46 L361.74 102.51 L361.05 103.64 L360.38 104.82 L359.73 106.06 L359.04 107.3 L358.31 108.53 L357.62 109.75 L357 110.94 L356.46 112.09 L356.01 113.23 L355.63 114.41 L355.29 115.72 L354.94 117.24 L354.51 118.98 L353.9 120.92 L353.08 122.8 L352.24 124.33 L351.57 125.49 L351.06 126.53 L350.62 127.69 L350.2 129.01 L349.81 130.43 L349.42 131.91 L349.04 133.38 L348.68 134.86 L348.33 136.36 L347.98 137.88 L347.61 139.43 L347.23 141 L346.81 142.57 L346.36 144.14 L345.89 145.68 L345.42 147.19 L344.94 148.67 L344.48 150.13 L344.05 151.58 L343.63 153.02 L343.24 154.48 L342.83 155.95 L342.35 157.42 L341.89 158.89 L341.43 160.37 L340.99 161.86 L340.55 163.35 L340.13 164.84 L339.71 166.34 L339.29 167.85 L338.87 169.36 L338.45 170.88 L338.01 172.39 L337.58 173.89 L337.15 175.4 L336.73 176.9 L336.33 178.4 L335.95 179.9 L335.61 181.41 L335.29 182.92 L335.02 184.43 L334.79 185.95 L334.61 187.48 L334.45 189.01 L334.3 190.56 L334.16 192.1 L334.04 193.65 L333.92 195.2 L333.81 196.75 L333.72 198.3 L333.64 199.85 L333.58 201.41 L333.54 202.96 L333.51 204.52 Z" fill="#dcdcdc" stroke="none"/>
<path d="M333 205.28 L333 203.71 L333 202.15 L333.05 200.58 L333.15 199.01 L333.26 197.44 L333.37 195.88 L333.48 194.31 L333.6 192.74 L333.71 191.18 L333.84 189.61 L333.96 188.05 L334.09 186.48 L334.22 184.91 L334.36 183.35 L334.5 181.78 L334.65 180.22 L334.79 178.65 L334.94 177.09 L335.09 175.53 L335.24 173.96 L335.39 172.4 L335.53 170.84 L335.68 169.28 L335.82 167.72 L335.96 166.15 L336.1 164.59 L336.24 163.03 L336.38 161.46 L336.53 159.9 L336.68 158.33 L336.83 156.76 L336.98 155.2 L337.14 153.63 L337.3 152.07 L337.49 150.51 L337.69 148.94 L337.89 147.38 L338.1 145.82 L338.31 144.26 L338.53 142.69 L338.76 141.13 L339 139.56 L339.25 138.01 L339.5 136.45 L339.75 134.91 L339.99 133.37 L340.22 131.84 L340.43 130.31 L340.63 128.77 L340.81 127.23 L340.99 125.67 L341.16 124.1 L341.35 122.52 L341.56 120.93 L341.8 119.32 L342.1 117.69 L342.49 116.05 L342.97 114.42 L343.53 112.83 L344.16 111.28 L344.84 109.78 L345.54 108.31 L346.26 106.87 L346.97 105.46 L347.67 104.05 L348.38 102.65 L349.09 101.23 L349.81 99.82 L350.56 98.4 L351.37 97.03 L352.2 95.66 L353.04 94.3 L353.9 92.95 L354.77 91.6 L355.65 90.27 L356.56 88.94 L357.47 87.63 L358.4 86.32 L359.36 85.02 L360.33 83.74 L361.31 82.47 L362.31 81.21 L363.32 79.98 L364.33 78.75 L365.34 77.53 L366.36 76.32 L367.39 75.11 L368.43 73.9 L369.49 72.7 L370.55 71.51 L371.62 70.34 L372.71 69.16 L373.83 67.97 L375.02 66.78 L376.29 65.62 L377.65 64.52 L379.07 63.52 L380.52 62.62 L381.98 61.79 L383.45 61.01 L384.92 60.28 L386.4 59.59 L387.86 58.93 L389.3 58.29 L390.73 57.66 L392.12 57.03 L393.45 56.41 L394.7 55.76 L395.89 55.05 L397.09 54.25 L398.32 53.37 L399.57 52.44 L400.85 51.5 L402.17 50.54 L403.59 49.58 L405.15 48.67 L406.8 47.92 L408.45 47.34 L410 46.87 L411.46 46.43 L412.86 45.96 L414.28 45.43 L415.76 44.87 L417.31 44.32 L418.87 43.81 L420.44 43.35 L422 42.93 L423.56 42.53 L425.11 42.16 L426.62 41.81 L428.08 41.44 L429.48 41.03 L430.86 40.56 L432.27 40.03 L433.72 39.47 L435.2 38.9 L436.69 38.33 L438.19 37.78 L439.72 37.25 L441.26 36.75 L442.8 36.28 L444.32 35.84 L445.84 35.42 L447.36 34.99 L448.87 34.57 L450.38 34.15 L451.89 33.73 L453.42 33.31 L454.97 32.9 L456.54 32.52 L458.13 32.18 L459.68 31.88 L461.19 31.58 L462.66 31.25 L464.12 30.87 L465.6 30.45 L467.1 30.01 L468.62 29.56 L470.15 29.13 L471.7 28.71 L473.27 28.34 L474.85 28.02 L476.41 27.73 L477.95 27.46 L479.48 27.17 L481 26.87 L482.52 26.55 L484.04 26.21 L485.56 25.86 L487.09 25.51 L488.64 25.16 L490.2 24.83 L491.76 24.53 L493.33 24.26 L494.91 24.02 L496.48 23.81 L498.06 23.62 L499.63 23.46 L501.21 23.32 L502.79 23.2 L504.37 23.1 L505.95 23.03 L507.52 22.98 L509.1 22.95 L510.68 22.92 L512.25 22.91 L513.81 22.89 L515.37 22.84 L516.92 22.77 L518.48 22.66 L520.05 22.55 L521.61 22.44 L523.18 22.33 L524.76 22.26 L526.33 22.21 L527.9 22.2 L529.47 22.2 L531.04 22.2 L532.61 22.2 L533.4 22.2 L531.84 22.28 L530.29 22.37 L528.74 22.48 L527.19 22.6 L525.64 22.74 L524.1 22.91 L522.56 23.1 L521.02 23.31 L519.47 23.52 L517.93 23.74 L516.37 23.93 L514.81 24.1 L513.25 24.24 L511.7 24.36 L510.15 24.48 L508.6 24.61 L507.06 24.75 L505.52 24.91 L503.98 25.09 L502.45 25.28 L500.92 25.5 L499.39 25.73 L497.87 25.99 L496.36 26.26 L494.85 26.56 L493.36 26.88 L491.87 27.24 L490.39 27.62 L488.91 28.03 L487.42 28.46 L485.93 28.89 L484.42 29.33 L482.9 29.75 L481.38 30.16 L479.85 30.55 L478.32 30.92 L476.8 31.28 L475.32 31.65 L473.87 32.04 L472.43 32.47 L470.99 32.93 L469.54 33.43 L468.07 33.94 L466.59 34.45 L465.07 34.96 L463.52 35.43 L461.95 35.86 L460.41 36.24 L458.92 36.6 L457.48 36.99 L456.05 37.42 L454.6 37.88 L453.13 38.36 L451.65 38.85 L450.17 39.34 L448.7 39.83 L447.22 40.32 L445.76 40.81 L444.31 41.3 L442.89 41.81 L441.5 42.34 L440.11 42.9 L438.68 43.5 L437.2 44.1 L435.7 44.69 L434.19 45.25 L432.72 45.75 L431.29 46.25 L429.9 46.77 L428.51 47.32 L427.07 47.91 L425.57 48.51 L424.03 49.08 L422.5 49.6 L421.02 50.1 L419.58 50.59 L418.18 51.09 L416.79 51.62 L415.43 52.17 L414.09 52.76 L412.79 53.38 L411.52 54.03 L410.31 54.72 L409.17 55.45 L408.06 56.25 L406.92 57.14 L405.69 58.13 L404.37 59.15 L402.99 60.13 L401.59 61.05 L400.22 61.91 L398.88 62.73 L397.55 63.55 L396.23 64.36 L394.9 65.17 L393.58 65.96 L392.25 66.75 L390.93 67.55 L389.62 68.35 L388.35 69.14 L387.11 69.96 L385.88 70.79 L384.66 71.65 L383.48 72.53 L382.36 73.41 L381.32 74.31 L380.36 75.23 L379.47 76.2 L378.6 77.26 L377.72 78.41 L376.81 79.65 L375.89 80.92 L374.96 82.19 L374.03 83.46 L373.08 84.74 L372.09 86.03 L371.04 87.33 L369.93 88.61 L368.78 89.83 L367.63 90.98 L366.48 92.1 L365.34 93.19 L364.2 94.27 L363.1 95.32 L362.08 96.34 L361.16 97.34 L360.32 98.37 L359.52 99.47 L358.75 100.65 L358 101.89 L357.29 103.16 L356.6 104.47 L355.92 105.8 L355.22 107.11 L354.56 108.44 L353.95 109.76 L353.42 111.06 L352.96 112.37 L352.58 113.72 L352.25 115.14 L351.94 116.66 L351.57 118.3 L351.06 120.01 L350.38 121.67 L349.64 123.14 L348.99 124.42 L348.47 125.66 L348.02 126.98 L347.63 128.4 L347.26 129.88 L346.9 131.38 L346.55 132.88 L346.22 134.38 L345.9 135.9 L345.58 137.42 L345.25 138.96 L344.9 140.51 L344.52 142.05 L344.12 143.59 L343.7 145.12 L343.26 146.63 L342.83 148.12 L342.41 149.61 L342 151.09 L341.62 152.57 L341.25 154.05 L340.89 155.55 L340.5 157.05 L340.11 158.55 L339.74 160.05 L339.38 161.56 L339.02 163.07 L338.67 164.59 L338.33 166.1 L337.99 167.62 L337.64 169.15 L337.3 170.67 L336.95 172.2 L336.59 173.72 L336.24 175.24 L335.9 176.76 L335.57 178.28 L335.26 179.8 L334.97 181.32 L334.72 182.85 L334.49 184.37 L334.31 185.91 L334.15 187.44 L334.02 188.99 L333.9 190.53 L333.79 192.08 L333.69 193.63 L333.59 195.18 L333.51 196.74 L333.43 198.29 L333.37 199.85 L333.32 201.4 L333.28 202.96 L333.26 204.52 Z" fill="#cecece" stroke="none"/>
<line x1="333" y1="205.3" x2="533.4" y2="22.2" stroke="#c85262" stroke-width="1.0" stroke-dasharray="2.6 1.4"/>
<path d="M333 205.3 L333.13 203.74 L333.26 202.17 L333.39 200.61 L333.53 199.05 L333.67 197.48 L333.82 195.92 L333.97 194.36 L334.12 192.8 L334.28 191.24 L334.44 189.68 L334.61 188.12 L334.78 186.56 L334.95 185 L335.13 183.44 L335.32 181.88 L335.52 180.33 L335.71 178.77 L335.91 177.21 L336.11 175.66 L336.31 174.1 L336.51 172.54 L336.7 170.98 L336.89 169.43 L337.08 167.87 L337.26 166.31 L337.45 164.75 L337.64 163.2 L337.83 161.64 L338.02 160.08 L338.22 158.52 L338.42 156.97 L338.62 155.41 L338.83 153.86 L339.03 152.3 L339.25 150.75 L339.46 149.19 L339.68 147.64 L339.91 146.09 L340.14 144.54 L340.38 142.99 L340.63 141.44 L340.89 139.89 L341.16 138.34 L341.44 136.8 L341.71 135.25 L341.98 133.71 L342.23 132.16 L342.47 130.61 L342.69 129.05 L342.89 127.49 L343.08 125.93 L343.28 124.37 L343.48 122.81 L343.7 121.26 L343.96 119.71 L344.27 118.18 L344.66 116.67 L345.13 115.19 L345.7 113.73 L346.33 112.31 L347.03 110.9 L347.76 109.51 L348.53 108.13 L349.29 106.76 L350.06 105.38 L350.82 104.01 L351.59 102.64 L352.37 101.28 L353.15 99.92 L353.95 98.57 L354.76 97.22 L355.58 95.89 L356.42 94.57 L357.28 93.25 L358.15 91.94 L359.03 90.64 L359.92 89.35 L360.84 88.08 L361.76 86.81 L362.71 85.56 L363.67 84.32 L364.65 83.09 L365.64 81.88 L366.64 80.66 L367.64 79.46 L368.65 78.26 L369.67 77.06 L370.69 75.87 L371.73 74.7 L372.78 73.53 L373.84 72.36 L374.91 71.21 L375.99 70.06 L377.1 68.95 L378.25 67.89 L379.46 66.92 L380.73 66.02 L382.05 65.2 L383.42 64.42 L384.81 63.68 L386.22 62.98 L387.65 62.32 L389.08 61.67 L390.51 61.04 L391.95 60.4 L393.38 59.75 L394.79 59.07 L396.17 58.33 L397.5 57.52 L398.79 56.63 L400.06 55.71 L401.32 54.76 L402.58 53.81 L403.85 52.86 L405.14 51.97 L406.48 51.18 L407.87 50.52 L409.33 49.99 L410.82 49.52 L412.32 49.05 L413.81 48.53 L415.27 47.97 L416.73 47.4 L418.2 46.85 L419.69 46.35 L421.19 45.89 L422.7 45.47 L424.22 45.06 L425.74 44.68 L427.26 44.3 L428.78 43.9 L430.27 43.44 L431.75 42.92 L433.21 42.35 L434.66 41.76 L436.12 41.16 L437.57 40.58 L439.04 40.01 L440.51 39.47 L441.99 38.97 L443.49 38.49 L444.99 38.03 L446.49 37.57 L447.99 37.13 L449.5 36.68 L451 36.23 L452.5 35.78 L454.01 35.34 L455.52 34.91 L457.04 34.51 L458.56 34.16 L460.1 33.83 L461.63 33.5 L463.15 33.13 L464.66 32.71 L466.16 32.25 L467.66 31.78 L469.16 31.31 L470.66 30.85 L472.17 30.42 L473.68 30.03 L475.21 29.68 L476.75 29.36 L478.28 29.05 L479.82 28.72 L481.35 28.38 L482.88 28.01 L484.4 27.64 L485.92 27.25 L487.44 26.86 L488.96 26.48 L490.49 26.12 L492.02 25.78 L493.56 25.48 L495.1 25.21 L496.65 24.96 L498.21 24.74 L499.76 24.54 L501.32 24.36 L502.88 24.2 L504.45 24.06 L506.01 23.94 L507.57 23.84 L509.14 23.75 L510.71 23.68 L512.28 23.61 L513.84 23.54 L515.41 23.44 L516.97 23.31 L518.53 23.16 L520.09 22.99 L521.65 22.82 L523.22 22.67 L524.78 22.54 L526.34 22.44 L527.91 22.36 L529.48 22.3 L531.04 22.25 L532.61 22.21" fill="none" stroke="#4c4cba" stroke-width="1.55" stroke-linejoin="round"/>
<path d="M333 205.3 L333.02 203.74 L333.04 202.18 L333.07 200.62 L333.11 199.06 L333.17 197.5 L333.23 195.95 L333.3 194.39 L333.38 192.84 L333.46 191.29 L333.55 189.73 L333.65 188.19 L333.76 186.64 L333.89 185.09 L334.05 183.55 L334.24 182 L334.45 180.46 L334.68 178.92 L334.93 177.38 L335.19 175.85 L335.46 174.31 L335.74 172.77 L336.01 171.24 L336.28 169.7 L336.55 168.17 L336.82 166.63 L337.08 165.1 L337.35 163.56 L337.63 162.03 L337.91 160.5 L338.2 158.97 L338.49 157.44 L338.8 155.91 L339.11 154.39 L339.44 152.87 L339.78 151.35 L340.14 149.84 L340.52 148.33 L340.92 146.82 L341.31 145.31 L341.69 143.8 L342.06 142.29 L342.4 140.78 L342.73 139.25 L343.03 137.73 L343.32 136.2 L343.61 134.67 L343.91 133.14 L344.22 131.61 L344.54 130.08 L344.88 128.55 L345.24 127.03 L345.64 125.54 L346.13 124.07 L346.72 122.65 L347.37 121.24 L347.96 119.82 L348.43 118.36 L348.78 116.86 L349.07 115.32 L349.37 113.79 L349.71 112.27 L350.13 110.78 L350.63 109.3 L351.19 107.85 L351.8 106.41 L352.45 104.99 L353.13 103.59 L353.83 102.2 L354.58 100.82 L355.36 99.46 L356.18 98.13 L357.05 96.85 L357.99 95.63 L358.99 94.46 L360.06 93.34 L361.18 92.24 L362.31 91.16 L363.43 90.08 L364.55 88.99 L365.66 87.89 L366.74 86.78 L367.78 85.62 L368.77 84.43 L369.72 83.21 L370.66 81.96 L371.58 80.7 L372.5 79.43 L373.41 78.17 L374.33 76.89 L375.25 75.64 L376.21 74.41 L377.21 73.24 L378.28 72.14 L379.42 71.09 L380.62 70.1 L381.86 69.14 L383.12 68.22 L384.4 67.32 L385.69 66.46 L386.99 65.61 L388.31 64.78 L389.64 63.97 L390.97 63.16 L392.31 62.35 L393.64 61.55 L394.98 60.75 L396.31 59.95 L397.65 59.16 L398.99 58.35 L400.31 57.53 L401.6 56.66 L402.85 55.74 L404.08 54.79 L405.31 53.83 L406.56 52.9 L407.85 52.05 L409.19 51.27 L410.57 50.54 L411.97 49.87 L413.39 49.24 L414.84 48.65 L416.29 48.1 L417.76 47.58 L419.24 47.09 L420.72 46.61 L422.2 46.13 L423.67 45.63 L425.13 45.08 L426.58 44.51 L428.03 43.95 L429.48 43.4 L430.95 42.89 L432.43 42.4 L433.91 41.91 L435.38 41.4 L436.84 40.87 L438.29 40.31 L439.75 39.76 L441.21 39.23 L442.69 38.74 L444.17 38.27 L445.66 37.82 L447.15 37.38 L448.65 36.93 L450.14 36.49 L451.63 36.04 L453.12 35.6 L454.62 35.16 L456.12 34.75 L457.63 34.37 L459.15 34.03 L460.67 33.71 L462.18 33.37 L463.69 32.98 L465.18 32.55 L466.67 32.09 L468.16 31.62 L469.64 31.16 L471.14 30.71 L472.63 30.29 L474.14 29.92 L475.66 29.59 L477.19 29.27 L478.71 28.96 L480.23 28.63 L481.75 28.28 L483.26 27.92 L484.78 27.54 L486.28 27.16 L487.79 26.77 L489.3 26.39 L490.82 26.04 L492.34 25.72 L493.87 25.42 L495.4 25.16 L496.94 24.92 L498.48 24.7 L500.03 24.51 L501.57 24.34 L503.12 24.18 L504.67 24.04 L506.22 23.93 L507.78 23.83 L509.33 23.74 L510.89 23.67 L512.44 23.6 L514 23.53 L515.55 23.43 L517.1 23.3 L518.65 23.14 L520.2 22.98 L521.75 22.81 L523.3 22.66 L524.85 22.54 L526.4 22.44 L527.95 22.36 L529.51 22.29 L531.06 22.25 L532.62 22.21" fill="none" stroke="#c83cd2" stroke-width="1.6" stroke-opacity="0.65" stroke-linejoin="round"/>
<rect x="323.2" y="13.2" width="220.3" height="201.1" fill="none" stroke="#b4b4b4" stroke-width="1.1"/>
<line x1="333" y1="214.3" x2="333" y2="216.5" stroke="#c0c0c0" stroke-width="0.8"/>
<line x1="321" y1="205.3" x2="323.2" y2="205.3" stroke="#c0c0c0" stroke-width="0.8"/>
<text transform="translate(333 223.09) scale(1 0.93)" font-size="8.1" text-anchor="middle" fill="#252525" color="#252525">0.0</text>
<text transform="translate(319.6 208.05) scale(1 0.93)" font-size="8.1" text-anchor="end" fill="#252525" color="#252525">0.0</text>
<line x1="373.08" y1="214.3" x2="373.08" y2="216.5" stroke="#c0c0c0" stroke-width="0.8"/>
<line x1="321" y1="168.68" x2="323.2" y2="168.68" stroke="#c0c0c0" stroke-width="0.8"/>
<text transform="translate(373.08 223.09) scale(1 0.93)" font-size="8.1" text-anchor="middle" fill="#252525" color="#252525">0.2</text>
<text transform="translate(319.6 171.43) scale(1 0.93)" font-size="8.1" text-anchor="end" fill="#252525" color="#252525">0.2</text>
<line x1="413.16" y1="214.3" x2="413.16" y2="216.5" stroke="#c0c0c0" stroke-width="0.8"/>
<line x1="321" y1="132.06" x2="323.2" y2="132.06" stroke="#c0c0c0" stroke-width="0.8"/>
<text transform="translate(413.16 223.09) scale(1 0.93)" font-size="8.1" text-anchor="middle" fill="#252525" color="#252525">0.4</text>
<text transform="translate(319.6 134.81) scale(1 0.93)" font-size="8.1" text-anchor="end" fill="#252525" color="#252525">0.4</text>
<line x1="453.24" y1="214.3" x2="453.24" y2="216.5" stroke="#c0c0c0" stroke-width="0.8"/>
<line x1="321" y1="95.44" x2="323.2" y2="95.44" stroke="#c0c0c0" stroke-width="0.8"/>
<text transform="translate(453.24 223.09) scale(1 0.93)" font-size="8.1" text-anchor="middle" fill="#252525" color="#252525">0.6</text>
<text transform="translate(319.6 98.19) scale(1 0.93)" font-size="8.1" text-anchor="end" fill="#252525" color="#252525">0.6</text>
<line x1="493.32" y1="214.3" x2="493.32" y2="216.5" stroke="#c0c0c0" stroke-width="0.8"/>
<line x1="321" y1="58.82" x2="323.2" y2="58.82" stroke="#c0c0c0" stroke-width="0.8"/>
<text transform="translate(493.32 223.09) scale(1 0.93)" font-size="8.1" text-anchor="middle" fill="#252525" color="#252525">0.8</text>
<text transform="translate(319.6 61.57) scale(1 0.93)" font-size="8.1" text-anchor="end" fill="#252525" color="#252525">0.8</text>
<line x1="533.4" y1="214.3" x2="533.4" y2="216.5" stroke="#c0c0c0" stroke-width="0.8"/>
<line x1="321" y1="22.2" x2="323.2" y2="22.2" stroke="#c0c0c0" stroke-width="0.8"/>
<text transform="translate(533.4 223.09) scale(1 0.93)" font-size="8.1" text-anchor="middle" fill="#252525" color="#252525">1.0</text>
<text transform="translate(319.6 24.95) scale(1 0.93)" font-size="8.1" text-anchor="end" fill="#252525" color="#252525">1.0</text>
<text transform="translate(433.35 10.7) scale(1 0.9)" font-size="10" text-anchor="middle" fill="#222" color="#222">class_1</text>
<text transform="translate(433.35 231.9) scale(1 0.9)" font-size="8.45" text-anchor="middle" fill="#252525" color="#252525">False Positive Rate</text>
<text transform="translate(302.7 113.75) rotate(-90) scale(0.965 0.88)" font-size="8.45" text-anchor="middle" fill="#252525" color="#252525">True Positive Rate</text>
<rect x="347" y="181.7" width="192.2" height="29.4" rx="1.8" fill="#fff" fill-opacity="0.93" stroke="#e2e2e2" stroke-width="0.9"/>
<line x1="349.7" y1="188.6" x2="367" y2="188.6" stroke="#5c5ca4" stroke-width="1.25"/>
<text transform="translate(374 191.6) scale(1 0.9)" font-size="8.45" text-anchor="start" fill="#181818" color="#181818" style="stroke-width:0.35px">autoaugment (AUC = 0.83 ± 0.02)</text>
<line x1="349.7" y1="201.7" x2="367" y2="201.7" stroke="#cc7ccc" stroke-width="1.25"/>
<text transform="translate(374 204.7) scale(1 0.9)" font-size="8.45" text-anchor="start" fill="#181818" color="#181818" style="stroke-width:0.35px">no augmentation (AUC = 0.82 ± 0.03)</text>
<text x="415.2" y="247.6" style="font-family:'Liberation Sans', Arial, sans-serif" font-size="11" fill="#111" color="#111">b)</text></g>
<g><path d="M43.8 471.9 L43.8 470.34 L43.8 468.78 L43.8 467.22 L43.8 465.66 L43.8 464.1 L43.8 462.55 L43.8 460.99 L43.8 459.43 L43.8 457.87 L43.8 456.32 L43.8 454.76 L43.8 453.2 L43.8 451.64 L43.8 450.08 L43.8 448.52 L43.8 446.96 L43.89 445.4 L43.98 443.85 L44.07 442.29 L44.17 440.73 L44.27 439.18 L44.37 437.62 L44.48 436.06 L44.6 434.51 L44.73 432.95 L44.86 431.39 L45 429.84 L45.15 428.28 L45.3 426.72 L45.47 425.17 L45.65 423.61 L45.85 422.06 L46.06 420.5 L46.28 418.96 L46.5 417.41 L46.73 415.86 L46.96 414.32 L47.19 412.78 L47.43 411.23 L47.68 409.68 L47.94 408.13 L48.21 406.59 L48.51 405.04 L48.83 403.49 L49.16 401.95 L49.51 400.42 L49.87 398.9 L50.22 397.38 L50.59 395.85 L50.96 394.33 L51.34 392.8 L51.74 391.27 L52.15 389.75 L52.58 388.22 L53.03 386.71 L53.48 385.2 L53.95 383.68 L54.44 382.16 L54.98 380.61 L55.59 379.04 L56.22 377.44 L56.93 375.89 L57.64 374.42 L58.31 373.03 L58.94 371.65 L59.58 370.23 L60.26 368.76 L61.13 367.32 L62.09 365.93 L63.08 364.59 L64.09 363.29 L65.1 362.03 L66.1 360.8 L67.09 359.6 L68.1 358.38 L69.15 357.14 L70.26 355.89 L71.4 354.67 L72.55 353.49 L73.71 352.36 L74.84 351.26 L75.94 350.2 L76.99 349.15 L77.97 348.14 L78.83 347.15 L79.6 346.15 L80.36 345.05 L81.17 343.79 L82.05 342.44 L82.97 341.07 L83.93 339.7 L84.96 338.34 L86.04 336.99 L87.18 335.68 L88.34 334.44 L89.5 333.26 L90.66 332.12 L91.82 331 L93.01 329.88 L94.25 328.76 L95.54 327.66 L96.89 326.57 L98.34 325.5 L99.92 324.48 L101.58 323.56 L103.2 322.86 L104.6 322.29 L105.82 321.76 L106.96 321.18 L108.14 320.51 L109.35 319.76 L110.61 318.95 L111.96 318.06 L113.47 317.13 L115.11 316.25 L116.77 315.5 L118.35 314.87 L119.85 314.31 L121.3 313.78 L122.7 313.25 L124.05 312.71 L125.36 312.14 L126.67 311.53 L127.96 310.89 L129.24 310.21 L130.55 309.47 L131.95 308.68 L133.48 307.86 L135.13 307.1 L136.82 306.45 L138.48 305.92 L140.1 305.48 L141.67 305.09 L143.2 304.72 L144.72 304.37 L146.25 304.02 L147.8 303.67 L149.37 303.34 L150.95 303.02 L152.53 302.73 L154.08 302.46 L155.56 302.2 L156.93 301.92 L158.21 301.58 L159.48 301.15 L160.81 300.62 L162.25 300.01 L163.78 299.39 L165.36 298.81 L166.98 298.3 L168.63 297.86 L170.29 297.51 L171.92 297.23 L173.54 297.01 L175.14 296.82 L176.76 296.66 L178.38 296.55 L179.98 296.47 L181.56 296.42 L183.1 296.37 L184.61 296.31 L186.06 296.21 L187.45 296.05 L188.85 295.78 L190.35 295.44 L191.97 295.11 L193.61 294.86 L195.22 294.69 L196.78 294.55 L198.34 294.42 L199.89 294.29 L201.44 294.15 L202.98 294.01 L204.51 293.86 L206.04 293.69 L207.6 293.51 L209.17 293.34 L210.74 293.21 L212.27 293.08 L213.76 292.9 L215.23 292.64 L216.72 292.32 L218.23 291.96 L219.77 291.6 L221.33 291.29 L222.9 291.05 L224.47 290.87 L226.03 290.72 L227.59 290.58 L229.14 290.46 L230.69 290.33 L232.24 290.19 L233.78 290.03 L235.33 289.85 L236.88 289.68 L238.44 289.55 L240 289.46 L241.56 289.42 L243.12 289.4 L243.9 289.4 L242.37 289.59 L240.85 289.81 L239.34 290.06 L237.84 290.35 L236.35 290.68 L234.86 291.04 L233.36 291.4 L231.84 291.73 L230.33 292.05 L228.82 292.37 L227.31 292.68 L225.82 293 L224.34 293.34 L222.9 293.7 L221.51 294.11 L220.12 294.58 L218.7 295.11 L217.23 295.64 L215.7 296.16 L214.13 296.62 L212.54 296.99 L211.01 297.31 L209.53 297.63 L208.08 297.97 L206.59 298.33 L205.07 298.68 L203.55 299.03 L202.03 299.36 L200.54 299.69 L199.09 300.02 L197.71 300.38 L196.36 300.78 L194.99 301.23 L193.57 301.72 L192.09 302.23 L190.53 302.73 L188.9 303.19 L187.26 303.59 L185.69 303.93 L184.22 304.24 L182.81 304.54 L181.41 304.85 L180.03 305.21 L178.65 305.59 L177.28 306 L175.93 306.44 L174.6 306.92 L173.28 307.42 L171.99 307.95 L170.7 308.52 L169.41 309.13 L168.07 309.78 L166.71 310.46 L165.32 311.15 L163.89 311.84 L162.41 312.53 L160.9 313.2 L159.37 313.83 L157.86 314.43 L156.36 314.99 L154.87 315.54 L153.38 316.07 L151.9 316.6 L150.41 317.11 L148.94 317.6 L147.48 318.1 L146.02 318.59 L144.55 319.05 L143.11 319.5 L141.72 319.94 L140.39 320.39 L139.11 320.86 L137.84 321.37 L136.55 321.92 L135.22 322.52 L133.85 323.15 L132.47 323.78 L131.12 324.41 L129.79 325.05 L128.49 325.69 L127.19 326.36 L125.82 327.06 L124.4 327.78 L122.99 328.48 L121.74 329.11 L120.74 329.67 L119.9 330.24 L118.97 330.96 L117.76 331.94 L116.24 333.08 L114.56 334.16 L112.97 335.06 L111.58 335.79 L110.36 336.46 L109.19 337.14 L108.01 337.87 L106.82 338.63 L105.64 339.4 L104.49 340.18 L103.38 340.98 L102.32 341.79 L101.31 342.61 L100.4 343.43 L99.59 344.23 L98.81 345.1 L97.93 346.17 L96.87 347.46 L95.65 348.84 L94.38 350.13 L93.2 351.27 L92.11 352.31 L91.06 353.33 L90.01 354.37 L88.96 355.43 L87.9 356.51 L86.83 357.6 L85.74 358.71 L84.65 359.82 L83.59 360.89 L82.65 361.87 L81.81 362.81 L80.99 363.8 L80.14 364.9 L79.25 366.09 L78.34 367.32 L77.41 368.57 L76.46 369.82 L75.53 371.05 L74.66 372.22 L73.85 373.33 L73.08 374.46 L72.31 375.64 L71.53 376.88 L70.73 378.17 L69.94 379.45 L69.17 380.65 L68.38 381.75 L67.66 382.85 L66.97 384 L66.3 385.21 L65.66 386.46 L65.04 387.74 L64.44 389.06 L63.84 390.44 L63.23 391.87 L62.58 393.34 L61.9 394.82 L61.21 396.24 L60.54 397.61 L59.92 398.92 L59.33 400.23 L58.77 401.55 L58.24 402.9 L57.73 404.27 L57.25 405.65 L56.8 407.04 L56.37 408.45 L55.96 409.87 L55.56 411.31 L55.18 412.77 L54.8 414.25 L54.43 415.72 L54.06 417.2 L53.7 418.68 L53.22 420.13 L52.75 421.6 L52.29 423.07 L51.82 424.54 L51.35 426.02 L50.86 427.51 L50.36 428.99 L49.86 430.46 L49.35 431.92 L48.86 433.37 L48.4 434.81 L47.98 436.26 L47.6 437.71 L47.27 439.18 L46.98 440.67 L46.7 442.16 L46.45 443.67 L46.22 445.18 L46 446.7 L45.8 448.21 L45.62 449.73 L45.46 451.25 L45.32 452.77 L45.19 454.3 L45.07 455.83 L44.96 457.36 L44.85 458.89 L44.75 460.42 L44.65 461.95 L44.57 463.48 L44.49 465.01 L44.43 466.54 L44.38 468.07 L44.34 469.6 L44.31 471.14 Z" fill="#e3e3e3" stroke="none"/>
<path d="M43.8 471.9 L43.8 470.34 L43.8 468.78 L43.8 467.22 L43.8 465.67 L43.8 464.11 L43.8 462.55 L43.8 460.99 L43.8 459.44 L43.8 457.88 L43.8 456.32 L43.8 454.77 L43.84 453.21 L43.89 451.65 L43.95 450.09 L44.02 448.54 L44.1 446.98 L44.2 445.42 L44.29 443.87 L44.4 442.31 L44.51 440.76 L44.62 439.2 L44.73 437.65 L44.85 436.1 L44.98 434.54 L45.12 432.99 L45.26 431.43 L45.41 429.88 L45.58 428.33 L45.75 426.78 L45.93 425.23 L46.13 423.68 L46.35 422.14 L46.57 420.59 L46.81 419.05 L47.06 417.51 L47.31 415.97 L47.56 414.43 L47.82 412.89 L48.08 411.35 L48.35 409.81 L48.64 408.28 L48.93 406.74 L49.25 405.21 L49.59 403.68 L49.95 402.15 L50.32 400.63 L50.69 399.12 L51.08 397.61 L51.46 396.09 L51.86 394.58 L52.26 393.07 L52.69 391.56 L53.12 390.05 L53.58 388.55 L54.05 387.06 L54.53 385.56 L55.02 384.07 L55.54 382.58 L56.09 381.08 L56.72 379.59 L57.39 378.11 L58.15 376.67 L58.93 375.28 L59.7 373.93 L60.43 372.59 L61.16 371.22 L61.92 369.82 L62.78 368.46 L63.72 367.13 L64.68 365.84 L65.67 364.58 L66.67 363.35 L67.68 362.14 L68.68 360.95 L69.69 359.75 L70.73 358.54 L71.8 357.34 L72.91 356.17 L74.04 355.04 L75.19 353.93 L76.32 352.85 L77.44 351.79 L78.53 350.73 L79.57 349.67 L80.52 348.61 L81.39 347.5 L82.22 346.32 L83.06 345.04 L83.93 343.72 L84.83 342.39 L85.77 341.08 L86.76 339.78 L87.8 338.51 L88.89 337.28 L90.01 336.1 L91.15 334.96 L92.29 333.85 L93.44 332.76 L94.61 331.68 L95.82 330.6 L97.06 329.56 L98.35 328.54 L99.71 327.55 L101.16 326.63 L102.67 325.8 L104.19 325.14 L105.6 324.54 L106.91 323.95 L108.17 323.29 L109.43 322.56 L110.69 321.76 L111.96 320.91 L113.28 320.02 L114.69 319.14 L116.18 318.32 L117.71 317.61 L119.21 317 L120.69 316.43 L122.14 315.87 L123.56 315.32 L124.95 314.74 L126.31 314.13 L127.66 313.48 L129 312.8 L130.32 312.08 L131.65 311.31 L133.02 310.51 L134.46 309.72 L135.98 309 L137.54 308.39 L139.1 307.88 L140.66 307.43 L142.19 307.03 L143.71 306.64 L145.23 306.27 L146.75 305.89 L148.27 305.52 L149.81 305.17 L151.36 304.83 L152.92 304.51 L154.46 304.22 L155.95 303.92 L157.39 303.59 L158.77 303.2 L160.12 302.71 L161.5 302.13 L162.93 301.49 L164.41 300.87 L165.92 300.29 L167.46 299.77 L169.03 299.33 L170.61 298.96 L172.19 298.67 L173.77 298.42 L175.34 298.21 L176.92 298.03 L178.5 297.89 L180.08 297.79 L181.65 297.71 L183.2 297.63 L184.73 297.53 L186.22 297.4 L187.68 297.19 L189.13 296.88 L190.63 296.5 L192.2 296.15 L193.78 295.88 L195.35 295.68 L196.91 295.51 L198.46 295.34 L200.01 295.18 L201.55 295.01 L203.1 294.84 L204.63 294.65 L206.17 294.45 L207.71 294.23 L209.27 294.03 L210.82 293.87 L212.36 293.7 L213.87 293.49 L215.37 293.19 L216.86 292.84 L218.37 292.44 L219.89 292.06 L221.42 291.72 L222.97 291.46 L224.53 291.25 L226.08 291.07 L227.63 290.91 L229.18 290.75 L230.73 290.59 L232.27 290.42 L233.81 290.23 L235.36 290.02 L236.9 289.82 L238.45 289.65 L240 289.54 L241.56 289.46 L243.12 289.42 L243.9 289.4 L242.37 289.53 L240.84 289.68 L239.32 289.87 L237.81 290.1 L236.31 290.37 L234.8 290.66 L233.29 290.96 L231.77 291.23 L230.26 291.49 L228.74 291.74 L227.23 291.99 L225.72 292.25 L224.22 292.52 L222.74 292.82 L221.29 293.18 L219.86 293.61 L218.41 294.07 L216.93 294.55 L215.42 294.99 L213.89 295.38 L212.34 295.7 L210.82 295.97 L209.32 296.24 L207.84 296.53 L206.34 296.84 L204.82 297.14 L203.3 297.44 L201.78 297.72 L200.28 298 L198.8 298.28 L197.35 298.6 L195.93 298.97 L194.5 299.38 L193.05 299.83 L191.57 300.28 L190.05 300.72 L188.48 301.12 L186.91 301.46 L185.37 301.75 L183.87 302.02 L182.41 302.28 L180.96 302.59 L179.51 302.92 L178.08 303.29 L176.65 303.69 L175.24 304.12 L173.84 304.58 L172.46 305.08 L171.09 305.61 L169.74 306.18 L168.38 306.79 L167.01 307.43 L165.63 308.08 L164.23 308.74 L162.82 309.4 L161.38 310.04 L159.91 310.67 L158.43 311.25 L156.95 311.81 L155.47 312.34 L154 312.85 L152.53 313.35 L151.05 313.84 L149.57 314.32 L148.1 314.79 L146.63 315.26 L145.17 315.72 L143.7 316.17 L142.24 316.61 L140.81 317.06 L139.42 317.52 L138.05 318.01 L136.71 318.54 L135.35 319.11 L133.98 319.71 L132.6 320.33 L131.21 320.97 L129.83 321.6 L128.47 322.24 L127.13 322.89 L125.79 323.56 L124.42 324.26 L123.02 324.97 L121.63 325.65 L120.31 326.3 L119.14 326.95 L118.08 327.64 L117 328.46 L115.8 329.42 L114.43 330.45 L112.94 331.4 L111.48 332.21 L110.1 332.93 L108.81 333.63 L107.56 334.34 L106.31 335.1 L105.06 335.89 L103.83 336.7 L102.62 337.52 L101.45 338.37 L100.3 339.24 L99.21 340.14 L98.18 341.05 L97.23 341.99 L96.33 343 L95.41 344.12 L94.39 345.36 L93.27 346.62 L92.1 347.82 L90.96 348.92 L89.86 349.97 L88.78 351.01 L87.71 352.07 L86.65 353.15 L85.58 354.23 L84.51 355.33 L83.43 356.43 L82.34 357.53 L81.27 358.61 L80.27 359.66 L79.34 360.7 L78.45 361.78 L77.55 362.94 L76.65 364.15 L75.73 365.38 L74.81 366.62 L73.87 367.86 L72.94 369.09 L72.04 370.28 L71.19 371.46 L70.37 372.66 L69.57 373.89 L68.77 375.16 L67.96 376.46 L67.17 377.75 L66.38 379.01 L65.61 380.22 L64.89 381.45 L64.21 382.71 L63.56 384.02 L62.95 385.35 L62.35 386.71 L61.78 388.09 L61.22 389.49 L60.65 390.93 L60.06 392.39 L59.45 393.84 L58.81 395.27 L58.19 396.66 L57.59 398.03 L57.03 399.4 L56.5 400.79 L56 402.19 L55.52 403.61 L55.06 405.04 L54.63 406.47 L54.23 407.92 L53.84 409.37 L53.47 410.84 L53.12 412.32 L52.76 413.81 L52.42 415.3 L52.08 416.79 L51.74 418.28 L51.35 419.76 L50.97 421.24 L50.59 422.73 L50.21 424.22 L49.82 425.72 L49.42 427.21 L49.02 428.7 L48.6 430.19 L48.19 431.67 L47.79 433.15 L47.41 434.62 L47.06 436.1 L46.75 437.58 L46.48 439.07 L46.24 440.58 L46.01 442.09 L45.81 443.6 L45.61 445.12 L45.44 446.65 L45.27 448.17 L45.13 449.7 L45 451.22 L44.88 452.75 L44.78 454.28 L44.68 455.81 L44.59 457.34 L44.5 458.87 L44.42 460.4 L44.34 461.93 L44.27 463.47 L44.21 465 L44.15 466.53 L44.11 468.06 L44.08 469.6 L44.06 471.13 Z" fill="#d7d7d7" stroke="none"/>
<line x1="43.8" y1="471.9" x2="243.9" y2="289.4" stroke="#c85262" stroke-width="1.0" stroke-dasharray="2.6 1.4"/>
<path d="M43.8 471.9 L43.81 470.34 L43.82 468.78 L43.83 467.23 L43.85 465.67 L43.87 464.11 L43.89 462.56 L43.92 461 L43.96 459.44 L43.99 457.89 L44.03 456.33 L44.07 454.77 L44.11 453.22 L44.17 451.66 L44.23 450.11 L44.31 448.55 L44.4 447 L44.5 445.44 L44.61 443.89 L44.72 442.34 L44.84 440.78 L44.96 439.23 L45.09 437.68 L45.22 436.13 L45.36 434.58 L45.51 433.03 L45.66 431.48 L45.83 429.93 L46.01 428.38 L46.19 426.84 L46.39 425.29 L46.61 423.75 L46.84 422.21 L47.09 420.68 L47.35 419.14 L47.62 417.61 L47.89 416.07 L48.17 414.54 L48.45 413.01 L48.73 411.48 L49.03 409.95 L49.33 408.42 L49.65 406.9 L49.99 405.38 L50.35 403.86 L50.73 402.35 L51.12 400.85 L51.52 399.34 L51.93 397.84 L52.34 396.34 L52.76 394.84 L53.19 393.34 L53.63 391.85 L54.09 390.36 L54.57 388.88 L55.07 387.4 L55.58 385.93 L56.1 384.46 L56.64 383 L57.21 381.55 L57.85 380.14 L58.56 378.77 L59.37 377.44 L60.22 376.14 L61.09 374.84 L61.93 373.53 L62.75 372.21 L63.58 370.89 L64.44 369.59 L65.34 368.33 L66.28 367.09 L67.25 365.87 L68.25 364.67 L69.25 363.48 L70.26 362.3 L71.27 361.11 L72.3 359.94 L73.35 358.79 L74.43 357.67 L75.54 356.58 L76.66 355.51 L77.8 354.45 L78.94 353.38 L80.07 352.31 L81.17 351.2 L82.21 350.06 L83.18 348.85 L84.08 347.59 L84.95 346.29 L85.81 344.99 L86.7 343.71 L87.62 342.45 L88.56 341.22 L89.56 340.02 L90.59 338.87 L91.67 337.75 L92.79 336.66 L93.92 335.58 L95.06 334.52 L96.21 333.47 L97.38 332.45 L98.59 331.46 L99.82 330.5 L101.09 329.6 L102.4 328.77 L103.77 328.05 L105.18 327.41 L106.6 326.8 L108.01 326.14 L109.38 325.4 L110.71 324.6 L112.02 323.75 L113.31 322.87 L114.59 321.99 L115.9 321.15 L117.25 320.39 L118.65 319.73 L120.08 319.13 L121.53 318.55 L122.98 317.97 L124.42 317.39 L125.85 316.78 L127.26 316.12 L128.66 315.43 L130.04 314.71 L131.4 313.94 L132.75 313.14 L134.09 312.34 L135.45 311.59 L136.83 310.91 L138.26 310.33 L139.72 309.83 L141.21 309.39 L142.72 308.97 L144.23 308.57 L145.74 308.16 L147.24 307.76 L148.75 307.37 L150.26 306.99 L151.78 306.63 L153.3 306.29 L154.83 305.97 L156.35 305.64 L157.85 305.27 L159.33 304.81 L160.77 304.26 L162.19 303.63 L163.61 302.97 L165.03 302.34 L166.48 301.76 L167.95 301.24 L169.43 300.79 L170.94 300.42 L172.47 300.11 L174 299.84 L175.54 299.6 L177.08 299.4 L178.63 299.23 L180.18 299.1 L181.73 298.99 L183.29 298.88 L184.84 298.76 L186.39 298.58 L187.91 298.33 L189.42 297.97 L190.92 297.56 L192.42 297.19 L193.95 296.9 L195.49 296.67 L197.03 296.47 L198.58 296.27 L200.12 296.07 L201.67 295.87 L203.21 295.66 L204.75 295.44 L206.29 295.2 L207.82 294.95 L209.36 294.73 L210.91 294.53 L212.45 294.33 L213.98 294.08 L215.5 293.75 L217.01 293.35 L218.51 292.93 L220.01 292.52 L221.52 292.16 L223.04 291.87 L224.58 291.63 L226.12 291.43 L227.67 291.23 L229.21 291.04 L230.76 290.85 L232.3 290.65 L233.84 290.43 L235.38 290.19 L236.92 289.96 L238.46 289.76 L240.01 289.62 L241.56 289.51 L243.12 289.43" fill="none" stroke="#4c4cba" stroke-width="1.55" stroke-linejoin="round"/>
<path d="M43.8 471.9 L43.81 470.36 L43.83 468.83 L43.86 467.29 L43.9 465.76 L43.94 464.22 L44 462.69 L44.05 461.15 L44.11 459.62 L44.18 458.09 L44.25 456.56 L44.32 455.02 L44.4 453.49 L44.49 451.96 L44.58 450.43 L44.69 448.9 L44.81 447.36 L44.94 445.83 L45.09 444.3 L45.24 442.78 L45.41 441.25 L45.59 439.73 L45.79 438.21 L46.02 436.7 L46.27 435.19 L46.56 433.68 L46.87 432.18 L47.19 430.67 L47.51 429.17 L47.83 427.66 L48.14 426.16 L48.44 424.66 L48.74 423.15 L49.04 421.64 L49.33 420.14 L49.63 418.63 L49.94 417.13 L50.25 415.63 L50.57 414.12 L50.89 412.62 L51.22 411.12 L51.56 409.62 L51.91 408.13 L52.28 406.64 L52.67 405.16 L53.08 403.68 L53.52 402.21 L53.99 400.75 L54.48 399.29 L55 397.85 L55.55 396.42 L56.13 395 L56.7 393.58 L57.27 392.15 L57.82 390.71 L58.34 389.27 L58.86 387.83 L59.39 386.39 L59.95 384.96 L60.53 383.54 L61.14 382.13 L61.79 380.74 L62.48 379.37 L63.22 378.03 L63.99 376.71 L64.8 375.4 L65.61 374.09 L66.42 372.79 L67.25 371.5 L68.1 370.22 L68.98 368.97 L69.89 367.73 L70.82 366.51 L71.75 365.29 L72.67 364.06 L73.58 362.83 L74.5 361.6 L75.43 360.37 L76.38 359.17 L77.37 358.01 L78.42 356.89 L79.49 355.79 L80.57 354.7 L81.65 353.61 L82.72 352.51 L83.8 351.41 L84.87 350.32 L85.96 349.23 L87.05 348.16 L88.16 347.09 L89.27 346.03 L90.37 344.96 L91.41 343.84 L92.4 342.67 L93.36 341.48 L94.35 340.32 L95.4 339.21 L96.52 338.16 L97.69 337.17 L98.9 336.22 L100.13 335.31 L101.39 334.42 L102.67 333.57 L103.96 332.74 L105.27 331.94 L106.59 331.17 L107.94 330.43 L109.3 329.72 L110.66 329.01 L111.98 328.24 L113.23 327.37 L114.44 326.43 L115.64 325.49 L116.89 324.62 L118.2 323.84 L119.57 323.15 L120.95 322.48 L122.33 321.81 L123.7 321.12 L125.08 320.43 L126.46 319.76 L127.84 319.1 L129.24 318.47 L130.64 317.84 L132.04 317.21 L133.45 316.59 L134.86 315.99 L136.29 315.42 L137.72 314.89 L139.17 314.4 L140.64 313.95 L142.11 313.5 L143.58 313.07 L145.06 312.63 L146.53 312.2 L148 311.76 L149.47 311.31 L150.93 310.86 L152.4 310.4 L153.86 309.93 L155.31 309.44 L156.76 308.94 L158.2 308.41 L159.63 307.85 L161.05 307.26 L162.45 306.65 L163.85 306.02 L165.25 305.38 L166.65 304.75 L168.06 304.14 L169.48 303.55 L170.91 303 L172.36 302.49 L173.81 302.02 L175.29 301.58 L176.77 301.18 L178.26 300.81 L179.75 300.47 L181.26 300.17 L182.77 299.91 L184.28 299.67 L185.8 299.45 L187.31 299.2 L188.82 298.9 L190.31 298.54 L191.79 298.14 L193.27 297.73 L194.75 297.34 L196.24 296.98 L197.75 296.68 L199.26 296.42 L200.77 296.19 L202.29 295.96 L203.81 295.72 L205.32 295.48 L206.84 295.22 L208.35 294.96 L209.87 294.73 L211.39 294.52 L212.9 294.28 L214.4 293.99 L215.9 293.64 L217.38 293.25 L218.86 292.83 L220.34 292.44 L221.83 292.1 L223.34 291.82 L224.86 291.6 L226.38 291.39 L227.9 291.2 L229.42 291.01 L230.95 290.82 L232.47 290.62 L233.99 290.4 L235.5 290.17 L237.02 289.94 L238.54 289.75 L240.07 289.61 L241.6 289.51 L243.13 289.43" fill="none" stroke="#c83cd2" stroke-width="1.6" stroke-opacity="0.65" stroke-linejoin="round"/>
<rect x="33.8" y="280.6" width="220.4" height="200.4" fill="none" stroke="#b4b4b4" stroke-width="1.1"/>
<line x1="43.8" y1="481" x2="43.8" y2="483.2" stroke="#c0c0c0" stroke-width="0.8"/>
<line x1="31.6" y1="471.9" x2="33.8" y2="471.9" stroke="#c0c0c0" stroke-width="0.8"/>
<text transform="translate(43.8 489.79) scale(1 0.93)" font-size="8.1" text-anchor="middle" fill="#252525" color="#252525">0.0</text>
<text transform="translate(30.2 474.65) scale(1 0.93)" font-size="8.1" text-anchor="end" fill="#252525" color="#252525">0.0</text>
<line x1="83.82" y1="481" x2="83.82" y2="483.2" stroke="#c0c0c0" stroke-width="0.8"/>
<line x1="31.6" y1="435.4" x2="33.8" y2="435.4" stroke="#c0c0c0" stroke-width="0.8"/>
<text transform="translate(83.82 489.79) scale(1 0.93)" font-size="8.1" text-anchor="middle" fill="#252525" color="#252525">0.2</text>
<text transform="translate(30.2 438.15) scale(1 0.93)" font-size="8.1" text-anchor="end" fill="#252525" color="#252525">0.2</text>
<line x1="123.84" y1="481" x2="123.84" y2="483.2" stroke="#c0c0c0" stroke-width="0.8"/>
<line x1="31.6" y1="398.9" x2="33.8" y2="398.9" stroke="#c0c0c0" stroke-width="0.8"/>
<text transform="translate(123.84 489.79) scale(1 0.93)" font-size="8.1" text-anchor="middle" fill="#252525" color="#252525">0.4</text>
<text transform="translate(30.2 401.65) scale(1 0.93)" font-size="8.1" text-anchor="end" fill="#252525" color="#252525">0.4</text>
<line x1="163.86" y1="481" x2="163.86" y2="483.2" stroke="#c0c0c0" stroke-width="0.8"/>
<line x1="31.6" y1="362.4" x2="33.8" y2="362.4" stroke="#c0c0c0" stroke-width="0.8"/>
<text transform="translate(163.86 489.79) scale(1 0.93)" font-size="8.1" text-anchor="middle" fill="#252525" color="#252525">0.6</text>
<text transform="translate(30.2 365.15) scale(1 0.93)" font-size="8.1" text-anchor="end" fill="#252525" color="#252525">0.6</text>
<line x1="203.88" y1="481" x2="203.88" y2="483.2" stroke="#c0c0c0" stroke-width="0.8"/>
<line x1="31.6" y1="325.9" x2="33.8" y2="325.9" stroke="#c0c0c0" stroke-width="0.8"/>
<text transform="translate(203.88 489.79) scale(1 0.93)" font-size="8.1" text-anchor="middle" fill="#252525" color="#252525">0.8</text>
<text transform="translate(30.2 328.65) scale(1 0.93)" font-size="8.1" text-anchor="end" fill="#252525" color="#252525">0.8</text>
<line x1="243.9" y1="481" x2="243.9" y2="483.2" stroke="#c0c0c0" stroke-width="0.8"/>
<line x1="31.6" y1="289.4" x2="33.8" y2="289.4" stroke="#c0c0c0" stroke-width="0.8"/>
<text transform="translate(243.9 489.79) scale(1 0.93)" font-size="8.1" text-anchor="middle" fill="#252525" color="#252525">1.0</text>
<text transform="translate(30.2 292.15) scale(1 0.93)" font-size="8.1" text-anchor="end" fill="#252525" color="#252525">1.0</text>
<text transform="translate(144 278.1) scale(1 0.9)" font-size="10" text-anchor="middle" fill="#222" color="#222">class_2</text>
<text transform="translate(144 498.6) scale(1 0.9)" font-size="8.45" text-anchor="middle" fill="#252525" color="#252525">False Positive Rate</text>
<text transform="translate(13.3 380.8) rotate(-90) scale(0.965 0.88)" font-size="8.45" text-anchor="middle" fill="#252525" color="#252525">True Positive Rate</text>
<rect x="57.6" y="448.4" width="192.3" height="29.4" rx="1.8" fill="#fff" fill-opacity="0.93" stroke="#e2e2e2" stroke-width="0.9"/>
<line x1="60.3" y1="455.3" x2="77.6" y2="455.3" stroke="#5c5ca4" stroke-width="1.25"/>
<text transform="translate(84.6 458.3) scale(1 0.9)" font-size="8.45" text-anchor="start" fill="#181818" color="#181818" style="stroke-width:0.35px">autoaugment (AUC = 0.82 ± 0.01)</text>
<line x1="60.3" y1="468.4" x2="77.6" y2="468.4" stroke="#cc7ccc" stroke-width="1.25"/>
<text transform="translate(84.6 471.4) scale(1 0.9)" font-size="8.45" text-anchor="start" fill="#181818" color="#181818" style="stroke-width:0.35px">no augmentation (AUC = 0.80 ± 0.03)</text>
<text x="125.2" y="511.3" style="font-family:'Liberation Sans', Arial, sans-serif" font-size="11" fill="#111" color="#111">c)</text></g>
<g><path d="M333.2 472.2 L333.2 470.6 L333.2 469 L333.2 467.4 L333.2 465.8 L333.2 464.21 L333.2 462.61 L333.2 461.02 L333.2 459.42 L333.2 457.83 L333.2 456.23 L333.2 454.64 L333.2 453.04 L333.27 451.44 L333.38 449.84 L333.5 448.24 L333.63 446.64 L333.77 445.05 L333.91 443.46 L334.05 441.87 L334.19 440.28 L334.33 438.69 L334.49 437.09 L334.64 435.5 L334.8 433.91 L334.97 432.32 L335.13 430.73 L335.3 429.15 L335.46 427.56 L335.63 425.98 L335.79 424.39 L335.95 422.8 L336.12 421.21 L336.28 419.62 L336.45 418.03 L336.62 416.44 L336.8 414.85 L336.98 413.26 L337.16 411.66 L337.36 410.07 L337.55 408.47 L337.76 406.87 L337.98 405.27 L338.22 403.66 L338.47 402.05 L338.74 400.43 L339.05 398.79 L339.41 397.12 L339.84 395.45 L340.31 393.84 L340.87 392.38 L341.39 391.02 L341.85 389.64 L342.25 388.19 L342.63 386.69 L343.01 385.14 L343.39 383.59 L343.78 382.03 L344.17 380.48 L344.56 378.92 L344.97 377.35 L345.4 375.77 L345.87 374.2 L346.36 372.64 L346.86 371.1 L347.37 369.58 L347.88 368.07 L348.39 366.55 L348.92 365.02 L349.47 363.47 L350.07 361.93 L350.71 360.39 L351.35 358.86 L352.02 357.34 L352.73 355.83 L353.49 354.33 L354.29 352.87 L355.12 351.42 L355.99 350 L356.9 348.61 L357.83 347.23 L358.79 345.88 L359.78 344.56 L360.79 343.25 L361.82 341.96 L362.87 340.69 L363.93 339.44 L365.02 338.21 L366.11 337 L367.22 335.8 L368.33 334.61 L369.46 333.44 L370.62 332.26 L371.78 331.06 L372.95 329.87 L374.13 328.71 L375.28 327.6 L376.41 326.49 L377.54 325.38 L378.71 324.23 L379.93 323.08 L381.19 321.93 L382.49 320.81 L383.82 319.71 L385.21 318.63 L386.65 317.59 L388.09 316.61 L389.45 315.72 L390.65 314.9 L391.77 314.18 L392.86 313.4 L394.01 312.52 L395.26 311.54 L396.57 310.52 L397.92 309.51 L399.25 308.54 L400.56 307.59 L401.84 306.66 L403.13 305.73 L404.49 304.75 L406 303.72 L407.68 302.71 L409.44 301.8 L411.15 301.05 L412.76 300.48 L414.26 299.96 L415.72 299.44 L417.2 298.9 L418.71 298.35 L420.24 297.8 L421.78 297.26 L423.33 296.73 L424.91 296.2 L426.55 295.67 L428.25 295.19 L429.97 294.75 L431.67 294.38 L433.35 294.07 L435.01 293.8 L436.66 293.56 L438.3 293.34 L439.95 293.14 L441.59 292.96 L443.21 292.79 L444.81 292.64 L446.36 292.49 L447.89 292.32 L449.39 292.14 L450.88 291.93 L452.39 291.69 L453.94 291.43 L455.53 291.16 L457.16 290.89 L458.82 290.65 L460.47 290.43 L462.11 290.25 L463.73 290.08 L465.33 289.92 L466.9 289.77 L468.46 289.61 L470.01 289.44 L471.56 289.25 L473.13 289.2 L474.74 289.2 L476.37 289.2 L478.01 289.2 L479.66 289.2 L481.29 289.2 L482.92 289.2 L484.55 289.2 L486.17 289.2 L487.79 289.2 L489.41 289.2 L491.03 289.2 L492.64 289.2 L494.25 289.2 L495.86 289.2 L497.46 289.2 L499.06 289.2 L500.66 289.2 L502.27 289.2 L503.87 289.2 L505.46 289.2 L507.06 289.2 L508.66 289.2 L510.25 289.2 L511.85 289.2 L513.44 289.2 L515.04 289.2 L516.64 289.2 L518.23 289.2 L519.83 289.2 L521.43 289.2 L523.02 289.2 L524.62 289.2 L526.22 289.2 L527.81 289.2 L529.41 289.2 L531.01 289.2 L532.6 289.2 L533.4 289.2 L531.82 289.43 L530.24 289.66 L528.66 289.88 L527.08 290.1 L525.5 290.32 L523.92 290.53 L522.33 290.73 L520.75 290.93 L519.16 291.12 L517.57 291.31 L515.99 291.5 L514.4 291.68 L512.81 291.86 L511.23 292.04 L509.65 292.22 L508.06 292.4 L506.48 292.57 L504.89 292.76 L503.31 292.94 L501.74 293.13 L500.16 293.32 L498.59 293.52 L497.02 293.72 L495.45 293.93 L493.88 294.15 L492.32 294.4 L490.77 294.67 L489.22 294.96 L487.67 295.25 L486.13 295.55 L484.59 295.87 L483.06 296.2 L481.55 296.54 L480.05 296.89 L478.56 297.27 L477.06 297.67 L475.53 298.08 L473.98 298.49 L472.39 298.85 L470.79 299.19 L469.18 299.52 L467.6 299.84 L466.03 300.15 L464.5 300.46 L463 300.78 L461.54 301.11 L460.09 301.47 L458.63 301.85 L457.14 302.26 L455.59 302.68 L453.98 303.11 L452.33 303.51 L450.67 303.89 L449.01 304.24 L447.39 304.57 L445.82 304.88 L444.29 305.19 L442.8 305.5 L441.32 305.83 L439.84 306.17 L438.38 306.53 L436.93 306.91 L435.53 307.3 L434.18 307.7 L432.9 308.11 L431.64 308.56 L430.35 309.07 L429 309.63 L427.59 310.22 L426.17 310.83 L424.76 311.45 L423.33 312.09 L421.87 312.74 L420.36 313.4 L418.84 314.05 L417.44 314.66 L416.25 315.18 L415.26 315.59 L414.37 316.03 L413.38 316.61 L412.21 317.37 L410.9 318.24 L409.55 319.14 L408.23 320.01 L406.95 320.86 L405.72 321.69 L404.52 322.54 L403.26 323.44 L401.88 324.44 L400.31 325.5 L398.64 326.54 L396.98 327.44 L395.43 328.09 L394.08 328.63 L392.84 329.16 L391.62 329.74 L390.39 330.39 L389.15 331.08 L387.93 331.82 L386.71 332.6 L385.46 333.44 L384.15 334.34 L382.81 335.27 L381.48 336.18 L380.2 337.06 L378.97 337.91 L377.78 338.78 L376.6 339.7 L375.42 340.67 L374.24 341.67 L373.07 342.68 L371.92 343.7 L370.79 344.72 L369.68 345.76 L368.59 346.82 L367.52 347.89 L366.47 348.98 L365.45 350.09 L364.45 351.21 L363.48 352.36 L362.55 353.52 L361.65 354.71 L360.78 355.92 L359.95 357.15 L359.17 358.41 L358.42 359.68 L357.72 360.99 L357.05 362.33 L356.41 363.68 L355.81 365.05 L355.24 366.46 L354.7 367.9 L354.16 369.38 L353.62 370.87 L353.07 372.37 L352.54 373.85 L352.03 375.32 L351.54 376.78 L351.09 378.25 L350.66 379.74 L350.24 381.26 L349.83 382.78 L349.42 384.32 L349.01 385.85 L348.61 387.39 L348.19 388.95 L347.75 390.53 L347.23 392.13 L346.62 393.72 L345.94 395.24 L345.27 396.68 L344.66 398.05 L344.14 399.45 L343.68 400.89 L343.26 402.38 L342.87 403.9 L342.51 405.42 L342.17 406.96 L341.84 408.5 L341.54 410.05 L341.24 411.6 L340.95 413.16 L340.67 414.72 L340.39 416.28 L340.13 417.84 L339.87 419.41 L339.61 420.98 L339.36 422.54 L339.11 424.11 L338.85 425.69 L338.6 427.26 L338.35 428.83 L338.09 430.4 L337.84 431.97 L337.58 433.54 L337.33 435.11 L337.09 436.68 L336.85 438.25 L336.62 439.81 L336.4 441.39 L336.19 442.96 L335.98 444.53 L335.78 446.11 L335.58 447.69 L335.39 449.26 L335.22 450.84 L335.05 452.42 L334.9 453.99 L334.75 455.57 L334.62 457.15 L334.5 458.74 L334.38 460.32 L334.26 461.91 L334.16 463.49 L334.05 465.08 L333.96 466.66 L333.88 468.25 L333.8 469.83 L333.73 471.42 Z" fill="#d4d4d4" stroke="none"/>
<path d="M333.2 472.2 L333.2 470.6 L333.2 469 L333.2 467.41 L333.2 465.81 L333.2 464.21 L333.2 462.62 L333.2 461.03 L333.22 459.43 L333.28 457.84 L333.35 456.25 L333.42 454.65 L333.51 453.06 L333.61 451.47 L333.74 449.87 L333.88 448.28 L334.03 446.69 L334.19 445.1 L334.35 443.51 L334.52 441.92 L334.68 440.34 L334.85 438.75 L335.03 437.16 L335.21 435.58 L335.4 433.99 L335.59 432.41 L335.78 430.82 L335.97 429.24 L336.17 427.66 L336.36 426.08 L336.54 424.49 L336.73 422.91 L336.92 421.32 L337.12 419.74 L337.31 418.16 L337.51 416.57 L337.72 414.99 L337.93 413.4 L338.14 411.82 L338.36 410.23 L338.59 408.65 L338.83 407.06 L339.08 405.48 L339.35 403.89 L339.64 402.3 L339.95 400.71 L340.3 399.12 L340.7 397.52 L341.17 395.93 L341.69 394.39 L342.26 392.92 L342.79 391.49 L343.25 390.04 L343.66 388.55 L344.04 387.02 L344.41 385.47 L344.78 383.91 L345.16 382.36 L345.54 380.81 L345.92 379.25 L346.31 377.69 L346.73 376.13 L347.18 374.58 L347.65 373.04 L348.14 371.51 L348.64 369.99 L349.14 368.47 L349.64 366.95 L350.15 365.43 L350.68 363.9 L351.25 362.38 L351.87 360.87 L352.51 359.37 L353.17 357.89 L353.88 356.42 L354.64 354.97 L355.44 353.55 L356.27 352.15 L357.14 350.77 L358.04 349.41 L358.97 348.08 L359.94 346.77 L360.92 345.48 L361.93 344.21 L362.97 342.96 L364.02 341.73 L365.09 340.51 L366.18 339.32 L367.28 338.14 L368.39 336.97 L369.52 335.82 L370.65 334.67 L371.81 333.54 L372.97 332.4 L374.16 331.28 L375.36 330.19 L376.55 329.12 L377.72 328.05 L378.9 326.98 L380.09 325.89 L381.32 324.81 L382.58 323.75 L383.87 322.71 L385.19 321.7 L386.54 320.73 L387.94 319.79 L389.36 318.91 L390.73 318.08 L392.03 317.28 L393.27 316.51 L394.47 315.67 L395.69 314.76 L396.95 313.79 L398.25 312.81 L399.57 311.83 L400.89 310.89 L402.2 309.96 L403.5 309.04 L404.79 308.12 L406.13 307.18 L407.56 306.23 L409.08 305.32 L410.67 304.52 L412.26 303.84 L413.8 303.27 L415.3 302.73 L416.78 302.18 L418.26 301.63 L419.76 301.06 L421.27 300.5 L422.79 299.95 L424.31 299.4 L425.85 298.87 L427.43 298.35 L429.04 297.87 L430.66 297.44 L432.28 297.07 L433.9 296.75 L435.52 296.46 L437.12 296.19 L438.73 295.95 L440.34 295.72 L441.95 295.51 L443.55 295.32 L445.14 295.14 L446.71 294.95 L448.26 294.76 L449.8 294.54 L451.33 294.29 L452.86 294.02 L454.42 293.73 L456 293.43 L457.59 293.14 L459.2 292.87 L460.82 292.63 L462.42 292.42 L464.02 292.23 L465.61 292.04 L467.19 291.86 L468.76 291.67 L470.32 291.46 L471.88 291.24 L473.46 291.03 L475.05 290.84 L476.65 290.66 L478.26 290.5 L479.87 290.36 L481.48 290.24 L483.09 290.14 L484.69 290.05 L486.3 289.97 L487.9 289.91 L489.51 289.86 L491.11 289.81 L492.71 289.78 L494.31 289.74 L495.91 289.68 L497.51 289.63 L499.1 289.59 L500.7 289.56 L502.3 289.52 L503.89 289.5 L505.49 289.48 L507.09 289.45 L508.68 289.43 L510.27 289.41 L511.87 289.39 L513.46 289.36 L515.06 289.33 L516.65 289.31 L518.25 289.29 L519.84 289.27 L521.44 289.25 L523.03 289.24 L524.63 289.23 L526.22 289.22 L527.82 289.21 L529.41 289.21 L531.01 289.2 L532.6 289.2 L533.4 289.2 L531.82 289.37 L530.23 289.54 L528.65 289.71 L527.07 289.87 L525.48 290.02 L523.9 290.17 L522.31 290.32 L520.72 290.46 L519.14 290.59 L517.55 290.72 L515.96 290.84 L514.37 290.96 L512.78 291.08 L511.2 291.2 L509.61 291.32 L508.02 291.44 L506.44 291.56 L504.85 291.69 L503.27 291.81 L501.68 291.94 L500.1 292.07 L498.52 292.21 L496.94 292.35 L495.36 292.5 L493.79 292.66 L492.21 292.84 L490.64 293.04 L489.07 293.24 L487.51 293.46 L485.95 293.68 L484.39 293.92 L482.83 294.17 L481.28 294.44 L479.75 294.72 L478.22 295.02 L476.68 295.34 L475.13 295.68 L473.57 296.02 L471.99 296.32 L470.4 296.62 L468.81 296.9 L467.23 297.16 L465.66 297.42 L464.11 297.69 L462.57 297.96 L461.06 298.25 L459.55 298.57 L458.04 298.91 L456.51 299.28 L454.96 299.65 L453.38 300.02 L451.77 300.37 L450.16 300.7 L448.54 300.99 L446.95 301.26 L445.37 301.52 L443.82 301.78 L442.28 302.05 L440.76 302.34 L439.24 302.64 L437.72 302.96 L436.21 303.3 L434.73 303.66 L433.29 304.03 L431.88 304.44 L430.49 304.89 L429.09 305.39 L427.66 305.94 L426.21 306.51 L424.75 307.09 L423.3 307.69 L421.85 308.29 L420.38 308.91 L418.88 309.52 L417.38 310.13 L415.93 310.71 L414.6 311.27 L413.38 311.8 L412.24 312.4 L411.08 313.11 L409.84 313.93 L408.53 314.82 L407.19 315.73 L405.88 316.62 L404.59 317.49 L403.32 318.37 L402.08 319.26 L400.82 320.2 L399.49 321.17 L398.06 322.16 L396.55 323.11 L395.03 323.95 L393.56 324.66 L392.19 325.31 L390.89 325.98 L389.61 326.7 L388.34 327.47 L387.07 328.29 L385.83 329.13 L384.6 330.02 L383.36 330.95 L382.1 331.92 L380.83 332.89 L379.55 333.86 L378.3 334.81 L377.08 335.75 L375.89 336.72 L374.72 337.72 L373.56 338.75 L372.4 339.81 L371.25 340.88 L370.12 341.95 L369.01 343.04 L367.91 344.15 L366.83 345.27 L365.78 346.4 L364.74 347.55 L363.73 348.73 L362.75 349.92 L361.79 351.13 L360.86 352.36 L359.97 353.62 L359.11 354.9 L358.29 356.19 L357.51 357.51 L356.77 358.86 L356.07 360.23 L355.41 361.62 L354.79 363.04 L354.21 364.46 L353.66 365.91 L353.13 367.39 L352.62 368.88 L352.11 370.39 L351.59 371.9 L351.08 373.4 L350.59 374.89 L350.13 376.38 L349.69 377.89 L349.28 379.4 L348.88 380.93 L348.49 382.47 L348.11 384.01 L347.72 385.55 L347.34 387.1 L346.95 388.65 L346.53 390.22 L346.06 391.78 L345.51 393.33 L344.89 394.83 L344.26 396.28 L343.68 397.71 L343.18 399.17 L342.74 400.66 L342.35 402.18 L341.98 403.71 L341.64 405.25 L341.32 406.8 L341.02 408.35 L340.74 409.91 L340.46 411.48 L340.19 413.04 L339.93 414.61 L339.67 416.17 L339.42 417.74 L339.18 419.31 L338.94 420.88 L338.71 422.45 L338.47 424.03 L338.24 425.6 L338.01 427.18 L337.77 428.75 L337.53 430.32 L337.3 431.9 L337.06 433.47 L336.83 435.04 L336.6 436.61 L336.38 438.19 L336.16 439.76 L335.96 441.33 L335.76 442.91 L335.57 444.49 L335.38 446.07 L335.2 447.65 L335.02 449.22 L334.86 450.8 L334.7 452.39 L334.56 453.97 L334.43 455.55 L334.31 457.13 L334.19 458.72 L334.08 460.3 L333.97 461.89 L333.87 463.47 L333.78 465.06 L333.69 466.65 L333.61 468.24 L333.54 469.82 L333.48 471.41 Z" fill="#c4c4c4" stroke="none"/>
<line x1="333.2" y1="472.2" x2="533.4" y2="289.2" stroke="#c85262" stroke-width="1.0" stroke-dasharray="2.6 1.4"/>
<path d="M333.2 472.2 L333.21 470.6 L333.23 469.01 L333.26 467.41 L333.29 465.82 L333.34 464.22 L333.39 462.63 L333.45 461.04 L333.51 459.44 L333.58 457.85 L333.65 456.26 L333.74 454.67 L333.84 453.08 L333.96 451.49 L334.1 449.91 L334.26 448.32 L334.43 446.73 L334.61 445.15 L334.8 443.56 L334.99 441.98 L335.17 440.4 L335.37 438.81 L335.57 437.23 L335.77 435.65 L335.99 434.07 L336.21 432.49 L336.43 430.91 L336.65 429.33 L336.87 427.75 L337.08 426.18 L337.3 424.6 L337.52 423.02 L337.73 421.44 L337.95 419.86 L338.17 418.28 L338.4 416.7 L338.63 415.12 L338.87 413.55 L339.12 411.97 L339.37 410.4 L339.63 408.82 L339.9 407.25 L340.19 405.68 L340.49 404.12 L340.82 402.56 L341.17 401 L341.55 399.45 L341.99 397.92 L342.49 396.42 L343.07 394.93 L343.65 393.45 L344.19 391.96 L344.66 390.44 L345.07 388.9 L345.45 387.35 L345.81 385.8 L346.17 384.24 L346.54 382.69 L346.91 381.13 L347.28 379.58 L347.66 378.04 L348.06 376.49 L348.49 374.96 L348.95 373.43 L349.43 371.91 L349.91 370.39 L350.4 368.87 L350.88 367.35 L351.38 365.84 L351.89 364.33 L352.44 362.83 L353.03 361.35 L353.66 359.89 L354.33 358.44 L355.04 357.01 L355.79 355.61 L356.58 354.23 L357.42 352.87 L358.28 351.53 L359.18 350.22 L360.12 348.93 L361.08 347.65 L362.07 346.4 L363.08 345.17 L364.11 343.96 L365.17 342.76 L366.25 341.59 L367.34 340.42 L368.44 339.28 L369.57 338.14 L370.7 337.02 L371.84 335.91 L373 334.81 L374.17 333.74 L375.37 332.69 L376.59 331.66 L377.81 330.64 L379.04 329.61 L380.26 328.58 L381.48 327.56 L382.71 326.55 L383.96 325.56 L385.24 324.61 L386.55 323.7 L387.88 322.82 L389.23 321.99 L390.62 321.2 L392.02 320.44 L393.41 319.66 L394.77 318.84 L396.08 317.95 L397.37 317 L398.64 316.04 L399.92 315.09 L401.22 314.16 L402.52 313.24 L403.83 312.33 L405.15 311.43 L406.46 310.51 L407.78 309.6 L409.11 308.73 L410.48 307.94 L411.9 307.24 L413.36 306.63 L414.85 306.06 L416.35 305.5 L417.84 304.93 L419.33 304.35 L420.81 303.77 L422.3 303.2 L423.79 302.63 L425.29 302.08 L426.79 301.54 L428.3 301.02 L429.82 300.55 L431.35 300.13 L432.9 299.75 L434.45 299.42 L436.02 299.11 L437.59 298.82 L439.16 298.55 L440.74 298.3 L442.32 298.07 L443.9 297.85 L445.48 297.64 L447.06 297.42 L448.63 297.19 L450.21 296.94 L451.77 296.65 L453.34 296.35 L454.9 296.02 L456.46 295.7 L458.02 295.38 L459.59 295.1 L461.16 294.84 L462.74 294.6 L464.32 294.38 L465.9 294.16 L467.48 293.95 L469.06 293.72 L470.63 293.49 L472.21 293.24 L473.78 292.98 L475.36 292.71 L476.93 292.46 L478.51 292.22 L480.08 292.01 L481.67 291.81 L483.25 291.63 L484.84 291.47 L486.42 291.31 L488.01 291.17 L489.6 291.04 L491.19 290.92 L492.78 290.81 L494.37 290.71 L495.96 290.62 L497.55 290.53 L499.15 290.45 L500.74 290.37 L502.33 290.3 L503.92 290.23 L505.52 290.17 L507.11 290.11 L508.7 290.05 L510.3 289.99 L511.89 289.92 L513.48 289.86 L515.08 289.79 L516.67 289.73 L518.26 289.67 L519.85 289.61 L521.45 289.55 L523.04 289.5 L524.63 289.45 L526.23 289.4 L527.82 289.35 L529.42 289.31 L531.01 289.26 L532.6 289.22" fill="none" stroke="#4c4cba" stroke-width="1.55" stroke-linejoin="round"/>
<path d="M333.2 472.2 L333.26 470.61 L333.32 469.02 L333.39 467.43 L333.46 465.84 L333.55 464.25 L333.64 462.66 L333.73 461.08 L333.83 459.49 L333.94 457.9 L334.05 456.32 L334.16 454.73 L334.29 453.15 L334.43 451.56 L334.58 449.98 L334.73 448.4 L334.9 446.81 L335.07 445.23 L335.25 443.65 L335.43 442.07 L335.61 440.49 L335.81 438.91 L336.01 437.34 L336.21 435.76 L336.43 434.18 L336.65 432.61 L336.87 431.03 L337.09 429.46 L337.3 427.88 L337.52 426.31 L337.74 424.73 L337.95 423.15 L338.17 421.58 L338.39 420 L338.61 418.43 L338.84 416.85 L339.07 415.28 L339.31 413.71 L339.56 412.14 L339.81 410.57 L340.07 409 L340.34 407.43 L340.63 405.86 L340.93 404.3 L341.26 402.75 L341.61 401.19 L342 399.65 L342.45 398.13 L342.96 396.63 L343.54 395.15 L344.12 393.67 L344.65 392.18 L345.11 390.66 L345.51 389.13 L345.89 387.58 L346.25 386.03 L346.61 384.48 L346.98 382.93 L347.34 381.38 L347.71 379.83 L348.1 378.29 L348.5 376.75 L348.93 375.22 L349.39 373.7 L349.87 372.18 L350.35 370.67 L350.84 369.15 L351.32 367.63 L351.82 366.12 L352.33 364.62 L352.88 363.13 L353.47 361.65 L354.1 360.19 L354.77 358.75 L355.48 357.33 L356.23 355.93 L357.03 354.55 L357.86 353.19 L358.73 351.86 L359.63 350.55 L360.56 349.26 L361.52 348 L362.51 346.75 L363.52 345.52 L364.55 344.31 L365.61 343.12 L366.68 341.95 L367.77 340.79 L368.88 339.64 L370 338.51 L371.12 337.39 L372.26 336.28 L373.42 335.19 L374.59 334.12 L375.79 333.07 L377 332.04 L378.23 331.03 L379.45 330.01 L380.66 328.98 L381.88 327.95 L383.11 326.95 L384.36 325.97 L385.64 325.02 L386.94 324.1 L388.26 323.23 L389.62 322.39 L391 321.61 L392.4 320.85 L393.78 320.08 L395.14 319.25 L396.45 318.37 L397.73 317.43 L399.01 316.47 L400.28 315.52 L401.57 314.59 L402.87 313.67 L404.18 312.77 L405.49 311.86 L406.8 310.95 L408.12 310.04 L409.44 309.17 L410.81 308.38 L412.22 307.68 L413.68 307.06 L415.16 306.49 L416.66 305.93 L418.15 305.36 L419.63 304.79 L421.11 304.21 L422.6 303.64 L424.08 303.07 L425.58 302.52 L427.08 301.98 L428.58 301.46 L430.1 300.99 L431.62 300.56 L433.16 300.19 L434.72 299.85 L436.28 299.54 L437.84 299.25 L439.41 298.98 L440.98 298.72 L442.56 298.49 L444.13 298.27 L445.71 298.06 L447.29 297.85 L448.86 297.62 L450.43 297.37 L451.99 297.09 L453.55 296.78 L455.11 296.46 L456.67 296.14 L458.23 295.82 L459.79 295.53 L461.36 295.27 L462.93 295.03 L464.51 294.81 L466.08 294.59 L467.66 294.38 L469.23 294.16 L470.81 293.92 L472.38 293.67 L473.95 293.42 L475.52 293.15 L477.09 292.9 L478.66 292.66 L480.23 292.44 L481.81 292.24 L483.39 292.06 L484.97 291.89 L486.56 291.74 L488.14 291.59 L489.72 291.46 L491.31 291.34 L492.9 291.23 L494.48 291.13 L496.07 291.03 L497.66 290.94 L499.25 290.86 L500.84 290.78 L502.43 290.71 L504.01 290.65 L505.6 290.58 L507.19 290.52 L508.78 290.46 L510.37 290.4 L511.96 290.34 L513.55 290.28 L515.14 290.22 L516.73 290.16 L518.32 290.09 L519.91 290.02 L521.49 289.94 L523.08 289.86 L524.67 289.77 L526.26 289.68 L527.85 289.58 L529.43 289.48 L531.02 289.37 L532.61 289.26" fill="none" stroke="#c83cd2" stroke-width="1.6" stroke-opacity="0.65" stroke-linejoin="round"/>
<rect x="323.5" y="280.5" width="219.8" height="200.5" fill="none" stroke="#b4b4b4" stroke-width="1.1"/>
<line x1="333.2" y1="481" x2="333.2" y2="483.2" stroke="#c0c0c0" stroke-width="0.8"/>
<line x1="321.3" y1="472.2" x2="323.5" y2="472.2" stroke="#c0c0c0" stroke-width="0.8"/>
<text transform="translate(333.2 489.79) scale(1 0.93)" font-size="8.1" text-anchor="middle" fill="#252525" color="#252525">0.0</text>
<text transform="translate(319.9 474.95) scale(1 0.93)" font-size="8.1" text-anchor="end" fill="#252525" color="#252525">0.0</text>
<line x1="373.24" y1="481" x2="373.24" y2="483.2" stroke="#c0c0c0" stroke-width="0.8"/>
<line x1="321.3" y1="435.6" x2="323.5" y2="435.6" stroke="#c0c0c0" stroke-width="0.8"/>
<text transform="translate(373.24 489.79) scale(1 0.93)" font-size="8.1" text-anchor="middle" fill="#252525" color="#252525">0.2</text>
<text transform="translate(319.9 438.35) scale(1 0.93)" font-size="8.1" text-anchor="end" fill="#252525" color="#252525">0.2</text>
<line x1="413.28" y1="481" x2="413.28" y2="483.2" stroke="#c0c0c0" stroke-width="0.8"/>
<line x1="321.3" y1="399" x2="323.5" y2="399" stroke="#c0c0c0" stroke-width="0.8"/>
<text transform="translate(413.28 489.79) scale(1 0.93)" font-size="8.1" text-anchor="middle" fill="#252525" color="#252525">0.4</text>
<text transform="translate(319.9 401.75) scale(1 0.93)" font-size="8.1" text-anchor="end" fill="#252525" color="#252525">0.4</text>
<line x1="453.32" y1="481" x2="453.32" y2="483.2" stroke="#c0c0c0" stroke-width="0.8"/>
<line x1="321.3" y1="362.4" x2="323.5" y2="362.4" stroke="#c0c0c0" stroke-width="0.8"/>
<text transform="translate(453.32 489.79) scale(1 0.93)" font-size="8.1" text-anchor="middle" fill="#252525" color="#252525">0.6</text>
<text transform="translate(319.9 365.15) scale(1 0.93)" font-size="8.1" text-anchor="end" fill="#252525" color="#252525">0.6</text>
<line x1="493.36" y1="481" x2="493.36" y2="483.2" stroke="#c0c0c0" stroke-width="0.8"/>
<line x1="321.3" y1="325.8" x2="323.5" y2="325.8" stroke="#c0c0c0" stroke-width="0.8"/>
<text transform="translate(493.36 489.79) scale(1 0.93)" font-size="8.1" text-anchor="middle" fill="#252525" color="#252525">0.8</text>
<text transform="translate(319.9 328.55) scale(1 0.93)" font-size="8.1" text-anchor="end" fill="#252525" color="#252525">0.8</text>
<line x1="533.4" y1="481" x2="533.4" y2="483.2" stroke="#c0c0c0" stroke-width="0.8"/>
<line x1="321.3" y1="289.2" x2="323.5" y2="289.2" stroke="#c0c0c0" stroke-width="0.8"/>
<text transform="translate(533.4 489.79) scale(1 0.93)" font-size="8.1" text-anchor="middle" fill="#252525" color="#252525">1.0</text>
<text transform="translate(319.9 291.95) scale(1 0.93)" font-size="8.1" text-anchor="end" fill="#252525" color="#252525">1.0</text>
<text transform="translate(433.4 278) scale(1 0.9)" font-size="10" text-anchor="middle" fill="#222" color="#222">class_3</text>
<text transform="translate(433.4 498.6) scale(1 0.9)" font-size="8.45" text-anchor="middle" fill="#252525" color="#252525">False Positive Rate</text>
<text transform="translate(303 380.75) rotate(-90) scale(0.965 0.88)" font-size="8.45" text-anchor="middle" fill="#252525" color="#252525">True Positive Rate</text>
<rect x="347.3" y="448.4" width="191.7" height="29.4" rx="1.8" fill="#fff" fill-opacity="0.93" stroke="#e2e2e2" stroke-width="0.9"/>
<line x1="350" y1="455.3" x2="367.3" y2="455.3" stroke="#5c5ca4" stroke-width="1.25"/>
<text transform="translate(374.3 458.3) scale(1 0.9)" font-size="8.45" text-anchor="start" fill="#181818" color="#181818" style="stroke-width:0.35px">autoaugment (AUC = 0.85 ± 0.02)</text>
<line x1="350" y1="468.4" x2="367.3" y2="468.4" stroke="#cc7ccc" stroke-width="1.25"/>
<text transform="translate(374.3 471.4) scale(1 0.9)" font-size="8.45" text-anchor="start" fill="#181818" color="#181818" style="stroke-width:0.35px">no augmentation (AUC = 0.85 ± 0.02)</text>
<text x="415.2" y="511.3" style="font-family:'Liberation Sans', Arial, sans-serif" font-size="11" fill="#111" color="#111">d)</text></g>
</g>
</svg></body></html>
